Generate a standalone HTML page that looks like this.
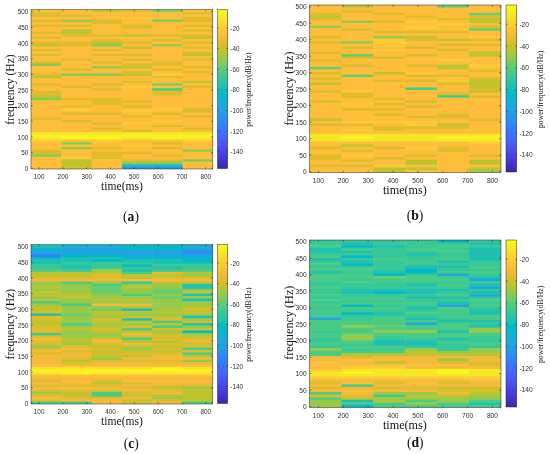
<!DOCTYPE html>
<html><head><meta charset="utf-8"><title>Spectrograms</title>
<style>
html,body{margin:0;padding:0;background:#fff;width:550px;height:454px;overflow:hidden}
svg{display:block;filter:blur(0.45px)}
.tk{font-family:"Liberation Sans",Arial,sans-serif;fill:#2e2e2e}
.lab{font-family:"Liberation Serif","Times New Roman",serif;fill:#151515}
.cap{font-family:"Liberation Serif","Times New Roman",serif;fill:#111;font-size:13.6px}
</style></head><body>
<svg width="550" height="454" viewBox="0 0 550 454">
<defs><linearGradient id="par" x1="0" y1="0" x2="0" y2="1"><stop offset="0" stop-color="#f9fb15"/><stop offset="0.0000" stop-color="#f9fb15"/><stop offset="0.0476" stop-color="#f5e924"/><stop offset="0.0952" stop-color="#fad62d"/><stop offset="0.1429" stop-color="#fec338"/><stop offset="0.1905" stop-color="#f0ba36"/><stop offset="0.2381" stop-color="#d1bf27"/><stop offset="0.2857" stop-color="#abc739"/><stop offset="0.3333" stop-color="#81cc59"/><stop offset="0.3810" stop-color="#57cc7a"/><stop offset="0.4286" stop-color="#37c897"/><stop offset="0.4762" stop-color="#24c1ae"/><stop offset="0.5238" stop-color="#02bac3"/><stop offset="0.5714" stop-color="#12b1d6"/><stop offset="0.6190" stop-color="#20a5e3"/><stop offset="0.6667" stop-color="#2797eb"/><stop offset="0.7143" stop-color="#2e87f7"/><stop offset="0.7619" stop-color="#3875fe"/><stop offset="0.8095" stop-color="#4563fd"/><stop offset="0.8571" stop-color="#4852f4"/><stop offset="0.9048" stop-color="#4741e5"/><stop offset="0.9524" stop-color="#4332cb"/><stop offset="1.0000" stop-color="#3e26a8"/></linearGradient></defs>
<rect width="550" height="454" fill="#fff"/>
<rect x="31.00" y="9.70" width="30.80" height="2.95" fill="#febe3c"/>
<rect x="31.00" y="12.15" width="30.80" height="5.40" fill="#debc2a"/>
<rect x="31.00" y="17.05" width="30.80" height="2.95" fill="#febe3c"/>
<rect x="31.00" y="19.50" width="30.80" height="2.95" fill="#debc2a"/>
<rect x="31.00" y="21.95" width="30.80" height="2.95" fill="#febe3c"/>
<rect x="31.00" y="24.40" width="30.80" height="2.95" fill="#debc2a"/>
<rect x="31.00" y="26.86" width="30.80" height="5.40" fill="#febe3c"/>
<rect x="31.00" y="31.76" width="30.80" height="2.95" fill="#debc2a"/>
<rect x="31.00" y="34.21" width="30.80" height="2.95" fill="#febe3c"/>
<rect x="31.00" y="36.66" width="30.80" height="2.95" fill="#debc2a"/>
<rect x="31.00" y="39.11" width="30.80" height="2.95" fill="#febe3c"/>
<rect x="31.00" y="41.56" width="30.80" height="2.95" fill="#debc2a"/>
<rect x="31.00" y="44.01" width="30.80" height="2.95" fill="#bfc32d"/>
<rect x="31.00" y="46.46" width="30.80" height="2.95" fill="#febe3c"/>
<rect x="31.00" y="48.91" width="30.80" height="2.95" fill="#debc2a"/>
<rect x="31.00" y="51.36" width="30.80" height="2.95" fill="#febe3c"/>
<rect x="31.00" y="53.81" width="30.80" height="2.95" fill="#debc2a"/>
<rect x="31.00" y="56.26" width="30.80" height="5.40" fill="#febe3c"/>
<rect x="31.00" y="61.17" width="30.80" height="2.95" fill="#debc2a"/>
<rect x="31.00" y="63.62" width="30.80" height="2.95" fill="#85cb55"/>
<rect x="31.00" y="66.07" width="30.80" height="7.85" fill="#febe3c"/>
<rect x="31.00" y="73.42" width="30.80" height="2.95" fill="#debc2a"/>
<rect x="31.00" y="75.87" width="30.80" height="2.95" fill="#bfc32d"/>
<rect x="31.00" y="78.32" width="30.80" height="5.40" fill="#febe3c"/>
<rect x="31.00" y="83.22" width="30.80" height="2.95" fill="#debc2a"/>
<rect x="31.00" y="85.67" width="30.80" height="5.40" fill="#febe3c"/>
<rect x="31.00" y="90.58" width="30.80" height="5.40" fill="#debc2a"/>
<rect x="31.00" y="95.48" width="30.80" height="2.95" fill="#bfc32d"/>
<rect x="31.00" y="97.93" width="30.80" height="2.95" fill="#85cb55"/>
<rect x="31.00" y="100.38" width="30.80" height="17.66" fill="#febe3c"/>
<rect x="31.00" y="117.53" width="30.80" height="2.95" fill="#debc2a"/>
<rect x="31.00" y="119.98" width="30.80" height="12.75" fill="#febe3c"/>
<rect x="31.00" y="132.24" width="30.80" height="2.95" fill="#f5e626"/>
<rect x="31.00" y="134.69" width="30.80" height="2.95" fill="#f7f51b"/>
<rect x="31.00" y="137.14" width="30.80" height="2.95" fill="#f5e626"/>
<rect x="31.00" y="139.59" width="30.80" height="2.95" fill="#fdcb33"/>
<rect x="31.00" y="142.04" width="30.80" height="7.85" fill="#febe3c"/>
<rect x="31.00" y="149.39" width="30.80" height="5.40" fill="#debc2a"/>
<rect x="31.00" y="154.30" width="30.80" height="2.95" fill="#85cb55"/>
<rect x="31.00" y="156.75" width="30.80" height="12.25" fill="#febe3c"/>
<rect x="61.30" y="9.70" width="30.80" height="5.40" fill="#febe3c"/>
<rect x="61.30" y="14.60" width="30.80" height="2.95" fill="#debc2a"/>
<rect x="61.30" y="17.05" width="30.80" height="2.95" fill="#febe3c"/>
<rect x="61.30" y="19.50" width="30.80" height="2.95" fill="#96ca48"/>
<rect x="61.30" y="21.95" width="30.80" height="2.95" fill="#febe3c"/>
<rect x="61.30" y="24.40" width="30.80" height="2.95" fill="#debc2a"/>
<rect x="61.30" y="26.86" width="30.80" height="2.95" fill="#febe3c"/>
<rect x="61.30" y="29.31" width="30.80" height="5.40" fill="#bfc32d"/>
<rect x="61.30" y="34.21" width="30.80" height="2.95" fill="#debc2a"/>
<rect x="61.30" y="36.66" width="30.80" height="5.40" fill="#febe3c"/>
<rect x="61.30" y="41.56" width="30.80" height="5.40" fill="#debc2a"/>
<rect x="61.30" y="46.46" width="30.80" height="12.75" fill="#febe3c"/>
<rect x="61.30" y="58.72" width="30.80" height="2.95" fill="#debc2a"/>
<rect x="61.30" y="61.17" width="30.80" height="7.85" fill="#febe3c"/>
<rect x="61.30" y="68.52" width="30.80" height="2.95" fill="#debc2a"/>
<rect x="61.30" y="70.97" width="30.80" height="2.95" fill="#febe3c"/>
<rect x="61.30" y="73.42" width="30.80" height="2.95" fill="#85cb55"/>
<rect x="61.30" y="75.87" width="30.80" height="10.30" fill="#febe3c"/>
<rect x="61.30" y="85.67" width="30.80" height="2.95" fill="#debc2a"/>
<rect x="61.30" y="88.12" width="30.80" height="10.30" fill="#febe3c"/>
<rect x="61.30" y="97.93" width="30.80" height="2.95" fill="#debc2a"/>
<rect x="61.30" y="100.38" width="30.80" height="5.40" fill="#febe3c"/>
<rect x="61.30" y="105.28" width="30.80" height="2.95" fill="#debc2a"/>
<rect x="61.30" y="107.73" width="30.80" height="2.95" fill="#fdcb33"/>
<rect x="61.30" y="110.18" width="30.80" height="2.95" fill="#febe3c"/>
<rect x="61.30" y="112.63" width="30.80" height="2.95" fill="#debc2a"/>
<rect x="61.30" y="115.08" width="30.80" height="5.40" fill="#febe3c"/>
<rect x="61.30" y="119.98" width="30.80" height="2.95" fill="#debc2a"/>
<rect x="61.30" y="122.44" width="30.80" height="10.30" fill="#febe3c"/>
<rect x="61.30" y="132.24" width="30.80" height="2.95" fill="#f5e626"/>
<rect x="61.30" y="134.69" width="30.80" height="5.40" fill="#f7f51b"/>
<rect x="61.30" y="139.59" width="30.80" height="2.95" fill="#febe3c"/>
<rect x="61.30" y="142.04" width="30.80" height="2.95" fill="#96ca48"/>
<rect x="61.30" y="144.49" width="30.80" height="2.95" fill="#febe3c"/>
<rect x="61.30" y="146.94" width="30.80" height="2.95" fill="#96ca48"/>
<rect x="61.30" y="149.39" width="30.80" height="7.85" fill="#febe3c"/>
<rect x="61.30" y="156.75" width="30.80" height="2.95" fill="#fdcb33"/>
<rect x="61.30" y="159.20" width="30.80" height="7.85" fill="#bfc32d"/>
<rect x="61.30" y="166.55" width="30.80" height="2.45" fill="#debc2a"/>
<rect x="91.60" y="9.70" width="30.80" height="2.95" fill="#bfc32d"/>
<rect x="91.60" y="12.15" width="30.80" height="7.85" fill="#febe3c"/>
<rect x="91.60" y="19.50" width="30.80" height="5.40" fill="#debc2a"/>
<rect x="91.60" y="24.40" width="30.80" height="10.30" fill="#febe3c"/>
<rect x="91.60" y="34.21" width="30.80" height="2.95" fill="#debc2a"/>
<rect x="91.60" y="36.66" width="30.80" height="2.95" fill="#febe3c"/>
<rect x="91.60" y="39.11" width="30.80" height="2.95" fill="#debc2a"/>
<rect x="91.60" y="41.56" width="30.80" height="2.95" fill="#bfc32d"/>
<rect x="91.60" y="44.01" width="30.80" height="2.95" fill="#85cb55"/>
<rect x="91.60" y="46.46" width="30.80" height="2.95" fill="#febe3c"/>
<rect x="91.60" y="48.91" width="30.80" height="2.95" fill="#debc2a"/>
<rect x="91.60" y="51.36" width="30.80" height="2.95" fill="#febe3c"/>
<rect x="91.60" y="53.81" width="30.80" height="2.95" fill="#debc2a"/>
<rect x="91.60" y="56.26" width="30.80" height="5.40" fill="#febe3c"/>
<rect x="91.60" y="61.17" width="30.80" height="2.95" fill="#debc2a"/>
<rect x="91.60" y="63.62" width="30.80" height="2.95" fill="#febe3c"/>
<rect x="91.60" y="66.07" width="30.80" height="2.95" fill="#96ca48"/>
<rect x="91.60" y="68.52" width="30.80" height="5.40" fill="#febe3c"/>
<rect x="91.60" y="73.42" width="30.80" height="2.95" fill="#85cb55"/>
<rect x="91.60" y="75.87" width="30.80" height="7.85" fill="#febe3c"/>
<rect x="91.60" y="83.22" width="30.80" height="2.95" fill="#debc2a"/>
<rect x="91.60" y="85.67" width="30.80" height="2.95" fill="#febe3c"/>
<rect x="91.60" y="88.12" width="30.80" height="2.95" fill="#debc2a"/>
<rect x="91.60" y="90.58" width="30.80" height="7.85" fill="#febe3c"/>
<rect x="91.60" y="97.93" width="30.80" height="7.85" fill="#debc2a"/>
<rect x="91.60" y="105.28" width="30.80" height="7.85" fill="#febe3c"/>
<rect x="91.60" y="112.63" width="30.80" height="2.95" fill="#debc2a"/>
<rect x="91.60" y="115.08" width="30.80" height="7.85" fill="#febe3c"/>
<rect x="91.60" y="122.44" width="30.80" height="2.95" fill="#debc2a"/>
<rect x="91.60" y="124.89" width="30.80" height="2.95" fill="#febe3c"/>
<rect x="91.60" y="127.34" width="30.80" height="2.95" fill="#debc2a"/>
<rect x="91.60" y="129.79" width="30.80" height="2.95" fill="#febe3c"/>
<rect x="91.60" y="132.24" width="30.80" height="2.95" fill="#f5e626"/>
<rect x="91.60" y="134.69" width="30.80" height="5.40" fill="#f7f51b"/>
<rect x="91.60" y="139.59" width="30.80" height="2.95" fill="#fdcb33"/>
<rect x="91.60" y="142.04" width="30.80" height="5.40" fill="#febe3c"/>
<rect x="91.60" y="146.94" width="30.80" height="2.95" fill="#debc2a"/>
<rect x="91.60" y="149.39" width="30.80" height="2.95" fill="#febe3c"/>
<rect x="91.60" y="151.84" width="30.80" height="7.85" fill="#debc2a"/>
<rect x="91.60" y="159.20" width="30.80" height="9.80" fill="#febe3c"/>
<rect x="121.90" y="9.70" width="30.80" height="2.95" fill="#debc2a"/>
<rect x="121.90" y="12.15" width="30.80" height="5.40" fill="#febe3c"/>
<rect x="121.90" y="17.05" width="30.80" height="2.95" fill="#fdcb33"/>
<rect x="121.90" y="19.50" width="30.80" height="5.40" fill="#febe3c"/>
<rect x="121.90" y="24.40" width="30.80" height="5.40" fill="#debc2a"/>
<rect x="121.90" y="29.31" width="30.80" height="5.40" fill="#febe3c"/>
<rect x="121.90" y="34.21" width="30.80" height="2.95" fill="#bfc32d"/>
<rect x="121.90" y="36.66" width="30.80" height="5.40" fill="#febe3c"/>
<rect x="121.90" y="41.56" width="30.80" height="2.95" fill="#debc2a"/>
<rect x="121.90" y="44.01" width="30.80" height="2.95" fill="#febe3c"/>
<rect x="121.90" y="46.46" width="30.80" height="2.95" fill="#bfc32d"/>
<rect x="121.90" y="48.91" width="30.80" height="5.40" fill="#febe3c"/>
<rect x="121.90" y="53.81" width="30.80" height="2.95" fill="#debc2a"/>
<rect x="121.90" y="56.26" width="30.80" height="2.95" fill="#febe3c"/>
<rect x="121.90" y="58.72" width="30.80" height="2.95" fill="#debc2a"/>
<rect x="121.90" y="61.17" width="30.80" height="2.95" fill="#febe3c"/>
<rect x="121.90" y="63.62" width="30.80" height="2.95" fill="#debc2a"/>
<rect x="121.90" y="66.07" width="30.80" height="2.95" fill="#bfc32d"/>
<rect x="121.90" y="68.52" width="30.80" height="2.95" fill="#febe3c"/>
<rect x="121.90" y="70.97" width="30.80" height="2.95" fill="#debc2a"/>
<rect x="121.90" y="73.42" width="30.80" height="2.95" fill="#bfc32d"/>
<rect x="121.90" y="75.87" width="30.80" height="5.40" fill="#febe3c"/>
<rect x="121.90" y="80.77" width="30.80" height="2.95" fill="#debc2a"/>
<rect x="121.90" y="83.22" width="30.80" height="2.95" fill="#febe3c"/>
<rect x="121.90" y="85.67" width="30.80" height="2.95" fill="#fdcb33"/>
<rect x="121.90" y="88.12" width="30.80" height="12.75" fill="#febe3c"/>
<rect x="121.90" y="100.38" width="30.80" height="2.95" fill="#debc2a"/>
<rect x="121.90" y="102.83" width="30.80" height="2.95" fill="#febe3c"/>
<rect x="121.90" y="105.28" width="30.80" height="2.95" fill="#debc2a"/>
<rect x="121.90" y="107.73" width="30.80" height="2.95" fill="#febe3c"/>
<rect x="121.90" y="110.18" width="30.80" height="2.95" fill="#fdcb33"/>
<rect x="121.90" y="112.63" width="30.80" height="2.95" fill="#febe3c"/>
<rect x="121.90" y="115.08" width="30.80" height="2.95" fill="#debc2a"/>
<rect x="121.90" y="117.53" width="30.80" height="5.40" fill="#febe3c"/>
<rect x="121.90" y="122.44" width="30.80" height="2.95" fill="#fdcb33"/>
<rect x="121.90" y="124.89" width="30.80" height="5.40" fill="#febe3c"/>
<rect x="121.90" y="129.79" width="30.80" height="2.95" fill="#debc2a"/>
<rect x="121.90" y="132.24" width="30.80" height="2.95" fill="#f5e626"/>
<rect x="121.90" y="134.69" width="30.80" height="2.95" fill="#f7f51b"/>
<rect x="121.90" y="137.14" width="30.80" height="2.95" fill="#f5e626"/>
<rect x="121.90" y="139.59" width="30.80" height="5.40" fill="#febe3c"/>
<rect x="121.90" y="144.49" width="30.80" height="2.95" fill="#fdcb33"/>
<rect x="121.90" y="146.94" width="30.80" height="5.40" fill="#febe3c"/>
<rect x="121.90" y="151.84" width="30.80" height="2.95" fill="#debc2a"/>
<rect x="121.90" y="154.30" width="30.80" height="5.40" fill="#febe3c"/>
<rect x="121.90" y="159.20" width="30.80" height="2.95" fill="#debc2a"/>
<rect x="121.90" y="161.65" width="30.80" height="2.95" fill="#85cb55"/>
<rect x="121.90" y="164.10" width="30.80" height="2.95" fill="#1ec0b2"/>
<rect x="121.90" y="166.55" width="30.80" height="2.45" fill="#2b91ef"/>
<rect x="152.20" y="9.70" width="30.80" height="2.95" fill="#85cb55"/>
<rect x="152.20" y="12.15" width="30.80" height="7.85" fill="#febe3c"/>
<rect x="152.20" y="19.50" width="30.80" height="2.95" fill="#85cb55"/>
<rect x="152.20" y="21.95" width="30.80" height="12.75" fill="#febe3c"/>
<rect x="152.20" y="34.21" width="30.80" height="2.95" fill="#debc2a"/>
<rect x="152.20" y="36.66" width="30.80" height="2.95" fill="#febe3c"/>
<rect x="152.20" y="39.11" width="30.80" height="2.95" fill="#debc2a"/>
<rect x="152.20" y="41.56" width="30.80" height="2.95" fill="#febe3c"/>
<rect x="152.20" y="44.01" width="30.80" height="2.95" fill="#96ca48"/>
<rect x="152.20" y="46.46" width="30.80" height="15.20" fill="#febe3c"/>
<rect x="152.20" y="61.17" width="30.80" height="5.40" fill="#debc2a"/>
<rect x="152.20" y="66.07" width="30.80" height="2.95" fill="#febe3c"/>
<rect x="152.20" y="68.52" width="30.80" height="2.95" fill="#debc2a"/>
<rect x="152.20" y="70.97" width="30.80" height="2.95" fill="#febe3c"/>
<rect x="152.20" y="73.42" width="30.80" height="2.95" fill="#fdcb33"/>
<rect x="152.20" y="75.87" width="30.80" height="2.95" fill="#debc2a"/>
<rect x="152.20" y="78.32" width="30.80" height="5.40" fill="#febe3c"/>
<rect x="152.20" y="83.22" width="30.80" height="2.95" fill="#85cb55"/>
<rect x="152.20" y="85.67" width="30.80" height="2.95" fill="#febe3c"/>
<rect x="152.20" y="88.12" width="30.80" height="2.95" fill="#4acb84"/>
<rect x="152.20" y="90.58" width="30.80" height="5.40" fill="#debc2a"/>
<rect x="152.20" y="95.48" width="30.80" height="12.75" fill="#febe3c"/>
<rect x="152.20" y="107.73" width="30.80" height="2.95" fill="#fdcb33"/>
<rect x="152.20" y="110.18" width="30.80" height="2.95" fill="#febe3c"/>
<rect x="152.20" y="112.63" width="30.80" height="2.95" fill="#debc2a"/>
<rect x="152.20" y="115.08" width="30.80" height="5.40" fill="#febe3c"/>
<rect x="152.20" y="119.98" width="30.80" height="2.95" fill="#fdcb33"/>
<rect x="152.20" y="122.44" width="30.80" height="2.95" fill="#febe3c"/>
<rect x="152.20" y="124.89" width="30.80" height="2.95" fill="#debc2a"/>
<rect x="152.20" y="127.34" width="30.80" height="5.40" fill="#febe3c"/>
<rect x="152.20" y="132.24" width="30.80" height="2.95" fill="#f5e626"/>
<rect x="152.20" y="134.69" width="30.80" height="5.40" fill="#f7f51b"/>
<rect x="152.20" y="139.59" width="30.80" height="2.95" fill="#febe3c"/>
<rect x="152.20" y="142.04" width="30.80" height="2.95" fill="#debc2a"/>
<rect x="152.20" y="144.49" width="30.80" height="2.95" fill="#febe3c"/>
<rect x="152.20" y="146.94" width="30.80" height="2.95" fill="#debc2a"/>
<rect x="152.20" y="149.39" width="30.80" height="5.40" fill="#febe3c"/>
<rect x="152.20" y="154.30" width="30.80" height="2.95" fill="#debc2a"/>
<rect x="152.20" y="156.75" width="30.80" height="2.95" fill="#febe3c"/>
<rect x="152.20" y="159.20" width="30.80" height="2.95" fill="#debc2a"/>
<rect x="152.20" y="161.65" width="30.80" height="2.95" fill="#85cb55"/>
<rect x="152.20" y="164.10" width="30.80" height="2.95" fill="#1ec0b2"/>
<rect x="152.20" y="166.55" width="30.80" height="2.45" fill="#2b91ef"/>
<rect x="182.50" y="9.70" width="30.30" height="2.95" fill="#febe3c"/>
<rect x="182.50" y="12.15" width="30.30" height="2.95" fill="#debc2a"/>
<rect x="182.50" y="14.60" width="30.30" height="2.95" fill="#febe3c"/>
<rect x="182.50" y="17.05" width="30.30" height="5.40" fill="#debc2a"/>
<rect x="182.50" y="21.95" width="30.30" height="2.95" fill="#febe3c"/>
<rect x="182.50" y="24.40" width="30.30" height="2.95" fill="#debc2a"/>
<rect x="182.50" y="26.86" width="30.30" height="2.95" fill="#febe3c"/>
<rect x="182.50" y="29.31" width="30.30" height="2.95" fill="#debc2a"/>
<rect x="182.50" y="31.76" width="30.30" height="2.95" fill="#febe3c"/>
<rect x="182.50" y="34.21" width="30.30" height="2.95" fill="#debc2a"/>
<rect x="182.50" y="36.66" width="30.30" height="2.95" fill="#bfc32d"/>
<rect x="182.50" y="39.11" width="30.30" height="2.95" fill="#febe3c"/>
<rect x="182.50" y="41.56" width="30.30" height="2.95" fill="#debc2a"/>
<rect x="182.50" y="44.01" width="30.30" height="2.95" fill="#febe3c"/>
<rect x="182.50" y="46.46" width="30.30" height="2.95" fill="#debc2a"/>
<rect x="182.50" y="48.91" width="30.30" height="2.95" fill="#febe3c"/>
<rect x="182.50" y="51.36" width="30.30" height="2.95" fill="#debc2a"/>
<rect x="182.50" y="53.81" width="30.30" height="2.95" fill="#bfc32d"/>
<rect x="182.50" y="56.26" width="30.30" height="2.95" fill="#febe3c"/>
<rect x="182.50" y="58.72" width="30.30" height="2.95" fill="#debc2a"/>
<rect x="182.50" y="61.17" width="30.30" height="5.40" fill="#febe3c"/>
<rect x="182.50" y="66.07" width="30.30" height="2.95" fill="#debc2a"/>
<rect x="182.50" y="68.52" width="30.30" height="2.95" fill="#febe3c"/>
<rect x="182.50" y="70.97" width="30.30" height="2.95" fill="#debc2a"/>
<rect x="182.50" y="73.42" width="30.30" height="7.85" fill="#febe3c"/>
<rect x="182.50" y="80.77" width="30.30" height="2.95" fill="#bfc32d"/>
<rect x="182.50" y="83.22" width="30.30" height="2.95" fill="#febe3c"/>
<rect x="182.50" y="85.67" width="30.30" height="2.95" fill="#debc2a"/>
<rect x="182.50" y="88.12" width="30.30" height="20.11" fill="#febe3c"/>
<rect x="182.50" y="107.73" width="30.30" height="5.40" fill="#debc2a"/>
<rect x="182.50" y="112.63" width="30.30" height="2.95" fill="#febe3c"/>
<rect x="182.50" y="115.08" width="30.30" height="2.95" fill="#debc2a"/>
<rect x="182.50" y="117.53" width="30.30" height="10.30" fill="#febe3c"/>
<rect x="182.50" y="127.34" width="30.30" height="2.95" fill="#debc2a"/>
<rect x="182.50" y="129.79" width="30.30" height="2.95" fill="#febe3c"/>
<rect x="182.50" y="132.24" width="30.30" height="2.95" fill="#f5e626"/>
<rect x="182.50" y="134.69" width="30.30" height="2.95" fill="#f7f51b"/>
<rect x="182.50" y="137.14" width="30.30" height="2.95" fill="#f5e626"/>
<rect x="182.50" y="139.59" width="30.30" height="2.95" fill="#fdcb33"/>
<rect x="182.50" y="142.04" width="30.30" height="7.85" fill="#febe3c"/>
<rect x="182.50" y="149.39" width="30.30" height="2.95" fill="#96ca48"/>
<rect x="182.50" y="151.84" width="30.30" height="7.85" fill="#febe3c"/>
<rect x="182.50" y="159.20" width="30.30" height="2.95" fill="#85cb55"/>
<rect x="182.50" y="161.65" width="30.30" height="7.35" fill="#febe3c"/>
<rect x="31" y="9.7" width="181.8" height="159.3" fill="none" stroke="#262626" stroke-width="0.5"/>
<line x1="31" y1="168.30" x2="32.8" y2="168.30" stroke="#262626" stroke-width="0.5"/>
<line x1="212.8" y1="168.30" x2="211.0" y2="168.30" stroke="#262626" stroke-width="0.5"/>
<text transform="translate(28.3,170.86) scale(0.9,1)" text-anchor="end" class="tk" font-size="7.1">0</text>
<line x1="31" y1="152.63" x2="32.8" y2="152.63" stroke="#262626" stroke-width="0.5"/>
<line x1="212.8" y1="152.63" x2="211.0" y2="152.63" stroke="#262626" stroke-width="0.5"/>
<text transform="translate(28.3,155.19) scale(0.9,1)" text-anchor="end" class="tk" font-size="7.1">50</text>
<line x1="31" y1="136.96" x2="32.8" y2="136.96" stroke="#262626" stroke-width="0.5"/>
<line x1="212.8" y1="136.96" x2="211.0" y2="136.96" stroke="#262626" stroke-width="0.5"/>
<text transform="translate(28.3,139.52) scale(0.9,1)" text-anchor="end" class="tk" font-size="7.1">100</text>
<line x1="31" y1="121.29" x2="32.8" y2="121.29" stroke="#262626" stroke-width="0.5"/>
<line x1="212.8" y1="121.29" x2="211.0" y2="121.29" stroke="#262626" stroke-width="0.5"/>
<text transform="translate(28.3,123.85) scale(0.9,1)" text-anchor="end" class="tk" font-size="7.1">150</text>
<line x1="31" y1="105.62" x2="32.8" y2="105.62" stroke="#262626" stroke-width="0.5"/>
<line x1="212.8" y1="105.62" x2="211.0" y2="105.62" stroke="#262626" stroke-width="0.5"/>
<text transform="translate(28.3,108.18) scale(0.9,1)" text-anchor="end" class="tk" font-size="7.1">200</text>
<line x1="31" y1="89.95" x2="32.8" y2="89.95" stroke="#262626" stroke-width="0.5"/>
<line x1="212.8" y1="89.95" x2="211.0" y2="89.95" stroke="#262626" stroke-width="0.5"/>
<text transform="translate(28.3,92.51) scale(0.9,1)" text-anchor="end" class="tk" font-size="7.1">250</text>
<line x1="31" y1="74.28" x2="32.8" y2="74.28" stroke="#262626" stroke-width="0.5"/>
<line x1="212.8" y1="74.28" x2="211.0" y2="74.28" stroke="#262626" stroke-width="0.5"/>
<text transform="translate(28.3,76.84) scale(0.9,1)" text-anchor="end" class="tk" font-size="7.1">300</text>
<line x1="31" y1="58.61" x2="32.8" y2="58.61" stroke="#262626" stroke-width="0.5"/>
<line x1="212.8" y1="58.61" x2="211.0" y2="58.61" stroke="#262626" stroke-width="0.5"/>
<text transform="translate(28.3,61.17) scale(0.9,1)" text-anchor="end" class="tk" font-size="7.1">350</text>
<line x1="31" y1="42.94" x2="32.8" y2="42.94" stroke="#262626" stroke-width="0.5"/>
<line x1="212.8" y1="42.94" x2="211.0" y2="42.94" stroke="#262626" stroke-width="0.5"/>
<text transform="translate(28.3,45.50) scale(0.9,1)" text-anchor="end" class="tk" font-size="7.1">400</text>
<line x1="31" y1="27.27" x2="32.8" y2="27.27" stroke="#262626" stroke-width="0.5"/>
<line x1="212.8" y1="27.27" x2="211.0" y2="27.27" stroke="#262626" stroke-width="0.5"/>
<text transform="translate(28.3,29.83) scale(0.9,1)" text-anchor="end" class="tk" font-size="7.1">450</text>
<line x1="31" y1="11.60" x2="32.8" y2="11.60" stroke="#262626" stroke-width="0.5"/>
<line x1="212.8" y1="11.60" x2="211.0" y2="11.60" stroke="#262626" stroke-width="0.5"/>
<text transform="translate(28.3,14.16) scale(0.9,1)" text-anchor="end" class="tk" font-size="7.1">500</text>
<line x1="39.10" y1="169" x2="39.10" y2="167.2" stroke="#262626" stroke-width="0.5"/>
<line x1="39.10" y1="9.7" x2="39.10" y2="11.5" stroke="#262626" stroke-width="0.5"/>
<text transform="translate(39.10,178.66) scale(0.9,1)" text-anchor="middle" class="tk" font-size="7.1">100</text>
<line x1="62.90" y1="169" x2="62.90" y2="167.2" stroke="#262626" stroke-width="0.5"/>
<line x1="62.90" y1="9.7" x2="62.90" y2="11.5" stroke="#262626" stroke-width="0.5"/>
<text transform="translate(62.90,178.66) scale(0.9,1)" text-anchor="middle" class="tk" font-size="7.1">200</text>
<line x1="86.70" y1="169" x2="86.70" y2="167.2" stroke="#262626" stroke-width="0.5"/>
<line x1="86.70" y1="9.7" x2="86.70" y2="11.5" stroke="#262626" stroke-width="0.5"/>
<text transform="translate(86.70,178.66) scale(0.9,1)" text-anchor="middle" class="tk" font-size="7.1">300</text>
<line x1="110.50" y1="169" x2="110.50" y2="167.2" stroke="#262626" stroke-width="0.5"/>
<line x1="110.50" y1="9.7" x2="110.50" y2="11.5" stroke="#262626" stroke-width="0.5"/>
<text transform="translate(110.50,178.66) scale(0.9,1)" text-anchor="middle" class="tk" font-size="7.1">400</text>
<line x1="134.30" y1="169" x2="134.30" y2="167.2" stroke="#262626" stroke-width="0.5"/>
<line x1="134.30" y1="9.7" x2="134.30" y2="11.5" stroke="#262626" stroke-width="0.5"/>
<text transform="translate(134.30,178.66) scale(0.9,1)" text-anchor="middle" class="tk" font-size="7.1">500</text>
<line x1="158.10" y1="169" x2="158.10" y2="167.2" stroke="#262626" stroke-width="0.5"/>
<line x1="158.10" y1="9.7" x2="158.10" y2="11.5" stroke="#262626" stroke-width="0.5"/>
<text transform="translate(158.10,178.66) scale(0.9,1)" text-anchor="middle" class="tk" font-size="7.1">600</text>
<line x1="181.90" y1="169" x2="181.90" y2="167.2" stroke="#262626" stroke-width="0.5"/>
<line x1="181.90" y1="9.7" x2="181.90" y2="11.5" stroke="#262626" stroke-width="0.5"/>
<text transform="translate(181.90,178.66) scale(0.9,1)" text-anchor="middle" class="tk" font-size="7.1">700</text>
<line x1="205.70" y1="169" x2="205.70" y2="167.2" stroke="#262626" stroke-width="0.5"/>
<line x1="205.70" y1="9.7" x2="205.70" y2="11.5" stroke="#262626" stroke-width="0.5"/>
<text transform="translate(205.70,178.66) scale(0.9,1)" text-anchor="middle" class="tk" font-size="7.1">800</text>
<rect x="217.5" y="9.7" width="10.199999999999989" height="158.8" fill="url(#par)" stroke="#262626" stroke-width="0.5"/>
<line x1="227.7" y1="28.00" x2="226.2" y2="28.00" stroke="#262626" stroke-width="0.5"/>
<line x1="217.5" y1="28.00" x2="219.0" y2="28.00" stroke="#262626" stroke-width="0.5"/>
<text transform="translate(230.3,30.56) scale(0.9,1)" class="tk" font-size="7.1">-20</text>
<line x1="227.7" y1="48.60" x2="226.2" y2="48.60" stroke="#262626" stroke-width="0.5"/>
<line x1="217.5" y1="48.60" x2="219.0" y2="48.60" stroke="#262626" stroke-width="0.5"/>
<text transform="translate(230.3,51.16) scale(0.9,1)" class="tk" font-size="7.1">-40</text>
<line x1="227.7" y1="69.20" x2="226.2" y2="69.20" stroke="#262626" stroke-width="0.5"/>
<line x1="217.5" y1="69.20" x2="219.0" y2="69.20" stroke="#262626" stroke-width="0.5"/>
<text transform="translate(230.3,71.76) scale(0.9,1)" class="tk" font-size="7.1">-60</text>
<line x1="227.7" y1="89.80" x2="226.2" y2="89.80" stroke="#262626" stroke-width="0.5"/>
<line x1="217.5" y1="89.80" x2="219.0" y2="89.80" stroke="#262626" stroke-width="0.5"/>
<text transform="translate(230.3,92.36) scale(0.9,1)" class="tk" font-size="7.1">-80</text>
<line x1="227.7" y1="110.40" x2="226.2" y2="110.40" stroke="#262626" stroke-width="0.5"/>
<line x1="217.5" y1="110.40" x2="219.0" y2="110.40" stroke="#262626" stroke-width="0.5"/>
<text transform="translate(230.3,112.96) scale(0.9,1)" class="tk" font-size="7.1">-100</text>
<line x1="227.7" y1="131.00" x2="226.2" y2="131.00" stroke="#262626" stroke-width="0.5"/>
<line x1="217.5" y1="131.00" x2="219.0" y2="131.00" stroke="#262626" stroke-width="0.5"/>
<text transform="translate(230.3,133.56) scale(0.9,1)" class="tk" font-size="7.1">-120</text>
<line x1="227.7" y1="151.60" x2="226.2" y2="151.60" stroke="#262626" stroke-width="0.5"/>
<line x1="217.5" y1="151.60" x2="219.0" y2="151.60" stroke="#262626" stroke-width="0.5"/>
<text transform="translate(230.3,154.16) scale(0.9,1)" class="tk" font-size="7.1">-140</text>
<text transform="translate(10.5,89.5) rotate(-90)" text-anchor="middle" class="lab" font-size="11.6" dy="0.33em">frequency (Hz)</text>
<text x="122" y="189.9" text-anchor="middle" class="lab" font-size="11.6">time(ms)</text>
<text transform="translate(249,89.7) rotate(-90)" text-anchor="middle" class="lab" font-size="7.4" dy="0.33em">power/frequency(dB/Hz)</text>
<text x="131" y="220.6" text-anchor="middle" class="cap">(<tspan font-weight="bold">a</tspan>)</text>
<rect x="309.50" y="5.00" width="32.42" height="8.23" fill="#febe3c"/>
<rect x="309.50" y="12.73" width="32.42" height="3.08" fill="#debc2a"/>
<rect x="309.50" y="15.31" width="32.42" height="3.08" fill="#bfc32d"/>
<rect x="309.50" y="17.88" width="32.42" height="3.08" fill="#debc2a"/>
<rect x="309.50" y="20.46" width="32.42" height="5.65" fill="#febe3c"/>
<rect x="309.50" y="25.62" width="32.42" height="3.08" fill="#96ca48"/>
<rect x="309.50" y="28.19" width="32.42" height="8.23" fill="#febe3c"/>
<rect x="309.50" y="35.92" width="32.42" height="3.08" fill="#debc2a"/>
<rect x="309.50" y="38.50" width="32.42" height="3.08" fill="#febe3c"/>
<rect x="309.50" y="41.08" width="32.42" height="3.08" fill="#debc2a"/>
<rect x="309.50" y="43.65" width="32.42" height="8.23" fill="#febe3c"/>
<rect x="309.50" y="51.38" width="32.42" height="3.08" fill="#debc2a"/>
<rect x="309.50" y="53.96" width="32.42" height="5.65" fill="#febe3c"/>
<rect x="309.50" y="59.12" width="32.42" height="3.08" fill="#debc2a"/>
<rect x="309.50" y="61.69" width="32.42" height="5.65" fill="#febe3c"/>
<rect x="309.50" y="66.85" width="32.42" height="3.08" fill="#68cd6c"/>
<rect x="309.50" y="69.42" width="32.42" height="3.08" fill="#febe3c"/>
<rect x="309.50" y="72.00" width="32.42" height="3.08" fill="#debc2a"/>
<rect x="309.50" y="74.58" width="32.42" height="3.08" fill="#febe3c"/>
<rect x="309.50" y="77.15" width="32.42" height="3.08" fill="#debc2a"/>
<rect x="309.50" y="79.73" width="32.42" height="3.08" fill="#febe3c"/>
<rect x="309.50" y="82.31" width="32.42" height="3.08" fill="#bfc32d"/>
<rect x="309.50" y="84.88" width="32.42" height="5.65" fill="#febe3c"/>
<rect x="309.50" y="90.04" width="32.42" height="3.08" fill="#debc2a"/>
<rect x="309.50" y="92.62" width="32.42" height="8.23" fill="#febe3c"/>
<rect x="309.50" y="100.35" width="32.42" height="3.08" fill="#debc2a"/>
<rect x="309.50" y="102.92" width="32.42" height="15.96" fill="#febe3c"/>
<rect x="309.50" y="118.38" width="32.42" height="3.08" fill="#bfc32d"/>
<rect x="309.50" y="120.96" width="32.42" height="3.08" fill="#febe3c"/>
<rect x="309.50" y="123.54" width="32.42" height="3.08" fill="#debc2a"/>
<rect x="309.50" y="126.12" width="32.42" height="8.23" fill="#febe3c"/>
<rect x="309.50" y="133.85" width="32.42" height="8.23" fill="#f5e626"/>
<rect x="309.50" y="141.58" width="32.42" height="5.65" fill="#febe3c"/>
<rect x="309.50" y="146.73" width="32.42" height="3.08" fill="#debc2a"/>
<rect x="309.50" y="149.31" width="32.42" height="5.65" fill="#febe3c"/>
<rect x="309.50" y="154.46" width="32.42" height="5.65" fill="#debc2a"/>
<rect x="309.50" y="159.62" width="32.42" height="5.65" fill="#febe3c"/>
<rect x="309.50" y="164.77" width="32.42" height="3.08" fill="#debc2a"/>
<rect x="309.50" y="167.35" width="32.42" height="5.15" fill="#febe3c"/>
<rect x="341.42" y="5.00" width="32.42" height="3.08" fill="#bfc32d"/>
<rect x="341.42" y="7.58" width="32.42" height="3.08" fill="#febe3c"/>
<rect x="341.42" y="10.15" width="32.42" height="3.08" fill="#debc2a"/>
<rect x="341.42" y="12.73" width="32.42" height="8.23" fill="#febe3c"/>
<rect x="341.42" y="20.46" width="32.42" height="3.08" fill="#96ca48"/>
<rect x="341.42" y="23.04" width="32.42" height="5.65" fill="#febe3c"/>
<rect x="341.42" y="28.19" width="32.42" height="3.08" fill="#debc2a"/>
<rect x="341.42" y="30.77" width="32.42" height="10.81" fill="#febe3c"/>
<rect x="341.42" y="41.08" width="32.42" height="3.08" fill="#96ca48"/>
<rect x="341.42" y="43.65" width="32.42" height="3.08" fill="#febe3c"/>
<rect x="341.42" y="46.23" width="32.42" height="3.08" fill="#debc2a"/>
<rect x="341.42" y="48.81" width="32.42" height="5.65" fill="#febe3c"/>
<rect x="341.42" y="53.96" width="32.42" height="3.08" fill="#68cd6c"/>
<rect x="341.42" y="56.54" width="32.42" height="3.08" fill="#debc2a"/>
<rect x="341.42" y="59.12" width="32.42" height="5.65" fill="#febe3c"/>
<rect x="341.42" y="64.27" width="32.42" height="3.08" fill="#debc2a"/>
<rect x="341.42" y="66.85" width="32.42" height="8.23" fill="#febe3c"/>
<rect x="341.42" y="74.58" width="32.42" height="3.08" fill="#68cd6c"/>
<rect x="341.42" y="77.15" width="32.42" height="13.38" fill="#febe3c"/>
<rect x="341.42" y="90.04" width="32.42" height="3.08" fill="#fdcb33"/>
<rect x="341.42" y="92.62" width="32.42" height="5.65" fill="#debc2a"/>
<rect x="341.42" y="97.77" width="32.42" height="5.65" fill="#febe3c"/>
<rect x="341.42" y="102.92" width="32.42" height="3.08" fill="#fdcb33"/>
<rect x="341.42" y="105.50" width="32.42" height="3.08" fill="#febe3c"/>
<rect x="341.42" y="108.08" width="32.42" height="3.08" fill="#debc2a"/>
<rect x="341.42" y="110.65" width="32.42" height="10.81" fill="#febe3c"/>
<rect x="341.42" y="120.96" width="32.42" height="3.08" fill="#fdcb33"/>
<rect x="341.42" y="123.54" width="32.42" height="3.08" fill="#debc2a"/>
<rect x="341.42" y="126.12" width="32.42" height="3.08" fill="#febe3c"/>
<rect x="341.42" y="128.69" width="32.42" height="3.08" fill="#fdcb33"/>
<rect x="341.42" y="131.27" width="32.42" height="3.08" fill="#febe3c"/>
<rect x="341.42" y="133.85" width="32.42" height="3.08" fill="#f5e626"/>
<rect x="341.42" y="136.42" width="32.42" height="3.08" fill="#f7f51b"/>
<rect x="341.42" y="139.00" width="32.42" height="3.08" fill="#f5e626"/>
<rect x="341.42" y="141.58" width="32.42" height="3.08" fill="#febe3c"/>
<rect x="341.42" y="144.15" width="32.42" height="3.08" fill="#bfc32d"/>
<rect x="341.42" y="146.73" width="32.42" height="3.08" fill="#febe3c"/>
<rect x="341.42" y="149.31" width="32.42" height="3.08" fill="#debc2a"/>
<rect x="341.42" y="151.88" width="32.42" height="3.08" fill="#febe3c"/>
<rect x="341.42" y="154.46" width="32.42" height="3.08" fill="#fdcb33"/>
<rect x="341.42" y="157.04" width="32.42" height="3.08" fill="#febe3c"/>
<rect x="341.42" y="159.62" width="32.42" height="3.08" fill="#debc2a"/>
<rect x="341.42" y="162.19" width="32.42" height="3.08" fill="#febe3c"/>
<rect x="341.42" y="164.77" width="32.42" height="3.08" fill="#debc2a"/>
<rect x="341.42" y="167.35" width="32.42" height="5.15" fill="#febe3c"/>
<rect x="373.33" y="5.00" width="32.42" height="8.23" fill="#febe3c"/>
<rect x="373.33" y="12.73" width="32.42" height="3.08" fill="#debc2a"/>
<rect x="373.33" y="15.31" width="32.42" height="5.65" fill="#febe3c"/>
<rect x="373.33" y="20.46" width="32.42" height="3.08" fill="#debc2a"/>
<rect x="373.33" y="23.04" width="32.42" height="8.23" fill="#febe3c"/>
<rect x="373.33" y="30.77" width="32.42" height="3.08" fill="#debc2a"/>
<rect x="373.33" y="33.35" width="32.42" height="3.08" fill="#febe3c"/>
<rect x="373.33" y="35.92" width="32.42" height="3.08" fill="#96ca48"/>
<rect x="373.33" y="38.50" width="32.42" height="8.23" fill="#fdcb33"/>
<rect x="373.33" y="46.23" width="32.42" height="3.08" fill="#febe3c"/>
<rect x="373.33" y="48.81" width="32.42" height="3.08" fill="#fdcb33"/>
<rect x="373.33" y="51.38" width="32.42" height="5.65" fill="#febe3c"/>
<rect x="373.33" y="56.54" width="32.42" height="3.08" fill="#debc2a"/>
<rect x="373.33" y="59.12" width="32.42" height="13.38" fill="#febe3c"/>
<rect x="373.33" y="72.00" width="32.42" height="3.08" fill="#bfc32d"/>
<rect x="373.33" y="74.58" width="32.42" height="5.65" fill="#febe3c"/>
<rect x="373.33" y="79.73" width="32.42" height="3.08" fill="#debc2a"/>
<rect x="373.33" y="82.31" width="32.42" height="15.96" fill="#febe3c"/>
<rect x="373.33" y="97.77" width="32.42" height="3.08" fill="#debc2a"/>
<rect x="373.33" y="100.35" width="32.42" height="3.08" fill="#febe3c"/>
<rect x="373.33" y="102.92" width="32.42" height="3.08" fill="#debc2a"/>
<rect x="373.33" y="105.50" width="32.42" height="3.08" fill="#febe3c"/>
<rect x="373.33" y="108.08" width="32.42" height="3.08" fill="#debc2a"/>
<rect x="373.33" y="110.65" width="32.42" height="3.08" fill="#febe3c"/>
<rect x="373.33" y="113.23" width="32.42" height="3.08" fill="#debc2a"/>
<rect x="373.33" y="115.81" width="32.42" height="5.65" fill="#febe3c"/>
<rect x="373.33" y="120.96" width="32.42" height="3.08" fill="#fdcb33"/>
<rect x="373.33" y="123.54" width="32.42" height="3.08" fill="#febe3c"/>
<rect x="373.33" y="126.12" width="32.42" height="5.65" fill="#debc2a"/>
<rect x="373.33" y="131.27" width="32.42" height="3.08" fill="#febe3c"/>
<rect x="373.33" y="133.85" width="32.42" height="8.23" fill="#f5e626"/>
<rect x="373.33" y="141.58" width="32.42" height="5.65" fill="#febe3c"/>
<rect x="373.33" y="146.73" width="32.42" height="3.08" fill="#debc2a"/>
<rect x="373.33" y="149.31" width="32.42" height="8.23" fill="#febe3c"/>
<rect x="373.33" y="157.04" width="32.42" height="3.08" fill="#debc2a"/>
<rect x="373.33" y="159.62" width="32.42" height="5.65" fill="#febe3c"/>
<rect x="373.33" y="164.77" width="32.42" height="3.08" fill="#fdcb33"/>
<rect x="373.33" y="167.35" width="32.42" height="5.15" fill="#bfc32d"/>
<rect x="405.25" y="5.00" width="32.42" height="10.81" fill="#febe3c"/>
<rect x="405.25" y="15.31" width="32.42" height="3.08" fill="#debc2a"/>
<rect x="405.25" y="17.88" width="32.42" height="3.08" fill="#febe3c"/>
<rect x="405.25" y="20.46" width="32.42" height="3.08" fill="#fdcb33"/>
<rect x="405.25" y="23.04" width="32.42" height="3.08" fill="#febe3c"/>
<rect x="405.25" y="25.62" width="32.42" height="3.08" fill="#fdcb33"/>
<rect x="405.25" y="28.19" width="32.42" height="3.08" fill="#febe3c"/>
<rect x="405.25" y="30.77" width="32.42" height="3.08" fill="#debc2a"/>
<rect x="405.25" y="33.35" width="32.42" height="3.08" fill="#febe3c"/>
<rect x="405.25" y="35.92" width="32.42" height="3.08" fill="#bfc32d"/>
<rect x="405.25" y="38.50" width="32.42" height="3.08" fill="#debc2a"/>
<rect x="405.25" y="41.08" width="32.42" height="5.65" fill="#febe3c"/>
<rect x="405.25" y="46.23" width="32.42" height="3.08" fill="#debc2a"/>
<rect x="405.25" y="48.81" width="32.42" height="5.65" fill="#febe3c"/>
<rect x="405.25" y="53.96" width="32.42" height="3.08" fill="#debc2a"/>
<rect x="405.25" y="56.54" width="32.42" height="8.23" fill="#febe3c"/>
<rect x="405.25" y="64.27" width="32.42" height="3.08" fill="#debc2a"/>
<rect x="405.25" y="66.85" width="32.42" height="5.65" fill="#febe3c"/>
<rect x="405.25" y="72.00" width="32.42" height="3.08" fill="#fdcb33"/>
<rect x="405.25" y="74.58" width="32.42" height="3.08" fill="#debc2a"/>
<rect x="405.25" y="77.15" width="32.42" height="3.08" fill="#febe3c"/>
<rect x="405.25" y="79.73" width="32.42" height="3.08" fill="#debc2a"/>
<rect x="405.25" y="82.31" width="32.42" height="5.65" fill="#febe3c"/>
<rect x="405.25" y="87.46" width="32.42" height="3.08" fill="#4acb84"/>
<rect x="405.25" y="90.04" width="32.42" height="10.81" fill="#febe3c"/>
<rect x="405.25" y="100.35" width="32.42" height="3.08" fill="#debc2a"/>
<rect x="405.25" y="102.92" width="32.42" height="3.08" fill="#febe3c"/>
<rect x="405.25" y="105.50" width="32.42" height="3.08" fill="#debc2a"/>
<rect x="405.25" y="108.08" width="32.42" height="8.23" fill="#febe3c"/>
<rect x="405.25" y="115.81" width="32.42" height="3.08" fill="#debc2a"/>
<rect x="405.25" y="118.38" width="32.42" height="3.08" fill="#febe3c"/>
<rect x="405.25" y="120.96" width="32.42" height="5.65" fill="#fdcb33"/>
<rect x="405.25" y="126.12" width="32.42" height="3.08" fill="#debc2a"/>
<rect x="405.25" y="128.69" width="32.42" height="5.65" fill="#febe3c"/>
<rect x="405.25" y="133.85" width="32.42" height="8.23" fill="#f5e626"/>
<rect x="405.25" y="141.58" width="32.42" height="5.65" fill="#febe3c"/>
<rect x="405.25" y="146.73" width="32.42" height="3.08" fill="#fdcb33"/>
<rect x="405.25" y="149.31" width="32.42" height="5.65" fill="#febe3c"/>
<rect x="405.25" y="154.46" width="32.42" height="3.08" fill="#debc2a"/>
<rect x="405.25" y="157.04" width="32.42" height="3.08" fill="#febe3c"/>
<rect x="405.25" y="159.62" width="32.42" height="5.65" fill="#bfc32d"/>
<rect x="405.25" y="164.77" width="32.42" height="3.08" fill="#febe3c"/>
<rect x="405.25" y="167.35" width="32.42" height="3.08" fill="#bfc32d"/>
<rect x="405.25" y="169.92" width="32.42" height="2.58" fill="#febe3c"/>
<rect x="437.17" y="5.00" width="32.42" height="3.08" fill="#68cd6c"/>
<rect x="437.17" y="7.58" width="32.42" height="10.81" fill="#febe3c"/>
<rect x="437.17" y="17.88" width="32.42" height="3.08" fill="#debc2a"/>
<rect x="437.17" y="20.46" width="32.42" height="3.08" fill="#febe3c"/>
<rect x="437.17" y="23.04" width="32.42" height="3.08" fill="#fdcb33"/>
<rect x="437.17" y="25.62" width="32.42" height="5.65" fill="#febe3c"/>
<rect x="437.17" y="30.77" width="32.42" height="3.08" fill="#debc2a"/>
<rect x="437.17" y="33.35" width="32.42" height="5.65" fill="#febe3c"/>
<rect x="437.17" y="38.50" width="32.42" height="3.08" fill="#bfc32d"/>
<rect x="437.17" y="41.08" width="32.42" height="3.08" fill="#febe3c"/>
<rect x="437.17" y="43.65" width="32.42" height="3.08" fill="#debc2a"/>
<rect x="437.17" y="46.23" width="32.42" height="3.08" fill="#febe3c"/>
<rect x="437.17" y="48.81" width="32.42" height="3.08" fill="#debc2a"/>
<rect x="437.17" y="51.38" width="32.42" height="8.23" fill="#febe3c"/>
<rect x="437.17" y="59.12" width="32.42" height="3.08" fill="#fdcb33"/>
<rect x="437.17" y="61.69" width="32.42" height="3.08" fill="#febe3c"/>
<rect x="437.17" y="64.27" width="32.42" height="5.65" fill="#bfc32d"/>
<rect x="437.17" y="69.42" width="32.42" height="5.65" fill="#febe3c"/>
<rect x="437.17" y="74.58" width="32.42" height="3.08" fill="#debc2a"/>
<rect x="437.17" y="77.15" width="32.42" height="3.08" fill="#febe3c"/>
<rect x="437.17" y="79.73" width="32.42" height="3.08" fill="#fdcb33"/>
<rect x="437.17" y="82.31" width="32.42" height="3.08" fill="#debc2a"/>
<rect x="437.17" y="84.88" width="32.42" height="8.23" fill="#febe3c"/>
<rect x="437.17" y="92.62" width="32.42" height="3.08" fill="#debc2a"/>
<rect x="437.17" y="95.19" width="32.42" height="3.08" fill="#4acb84"/>
<rect x="437.17" y="97.77" width="32.42" height="15.96" fill="#febe3c"/>
<rect x="437.17" y="113.23" width="32.42" height="5.65" fill="#debc2a"/>
<rect x="437.17" y="118.38" width="32.42" height="5.65" fill="#febe3c"/>
<rect x="437.17" y="123.54" width="32.42" height="3.08" fill="#bfc32d"/>
<rect x="437.17" y="126.12" width="32.42" height="3.08" fill="#debc2a"/>
<rect x="437.17" y="128.69" width="32.42" height="5.65" fill="#febe3c"/>
<rect x="437.17" y="133.85" width="32.42" height="3.08" fill="#f5e626"/>
<rect x="437.17" y="136.42" width="32.42" height="3.08" fill="#f7f51b"/>
<rect x="437.17" y="139.00" width="32.42" height="3.08" fill="#f5e626"/>
<rect x="437.17" y="141.58" width="32.42" height="5.65" fill="#febe3c"/>
<rect x="437.17" y="146.73" width="32.42" height="5.65" fill="#debc2a"/>
<rect x="437.17" y="151.88" width="32.42" height="20.62" fill="#febe3c"/>
<rect x="469.08" y="5.00" width="31.92" height="8.23" fill="#febe3c"/>
<rect x="469.08" y="12.73" width="31.92" height="3.08" fill="#68cd6c"/>
<rect x="469.08" y="15.31" width="31.92" height="3.08" fill="#debc2a"/>
<rect x="469.08" y="17.88" width="31.92" height="5.65" fill="#bfc32d"/>
<rect x="469.08" y="23.04" width="31.92" height="3.08" fill="#febe3c"/>
<rect x="469.08" y="25.62" width="31.92" height="3.08" fill="#debc2a"/>
<rect x="469.08" y="28.19" width="31.92" height="3.08" fill="#68cd6c"/>
<rect x="469.08" y="30.77" width="31.92" height="5.65" fill="#febe3c"/>
<rect x="469.08" y="35.92" width="31.92" height="3.08" fill="#fdcb33"/>
<rect x="469.08" y="38.50" width="31.92" height="3.08" fill="#debc2a"/>
<rect x="469.08" y="41.08" width="31.92" height="3.08" fill="#febe3c"/>
<rect x="469.08" y="43.65" width="31.92" height="3.08" fill="#debc2a"/>
<rect x="469.08" y="46.23" width="31.92" height="5.65" fill="#febe3c"/>
<rect x="469.08" y="51.38" width="31.92" height="5.65" fill="#bfc32d"/>
<rect x="469.08" y="56.54" width="31.92" height="8.23" fill="#febe3c"/>
<rect x="469.08" y="64.27" width="31.92" height="3.08" fill="#fdcb33"/>
<rect x="469.08" y="66.85" width="31.92" height="3.08" fill="#febe3c"/>
<rect x="469.08" y="69.42" width="31.92" height="3.08" fill="#debc2a"/>
<rect x="469.08" y="72.00" width="31.92" height="5.65" fill="#febe3c"/>
<rect x="469.08" y="77.15" width="31.92" height="3.08" fill="#debc2a"/>
<rect x="469.08" y="79.73" width="31.92" height="8.23" fill="#bfc32d"/>
<rect x="469.08" y="87.46" width="31.92" height="3.08" fill="#debc2a"/>
<rect x="469.08" y="90.04" width="31.92" height="3.08" fill="#bfc32d"/>
<rect x="469.08" y="92.62" width="31.92" height="3.08" fill="#febe3c"/>
<rect x="469.08" y="95.19" width="31.92" height="3.08" fill="#debc2a"/>
<rect x="469.08" y="97.77" width="31.92" height="21.12" fill="#febe3c"/>
<rect x="469.08" y="118.38" width="31.92" height="3.08" fill="#debc2a"/>
<rect x="469.08" y="120.96" width="31.92" height="13.38" fill="#febe3c"/>
<rect x="469.08" y="133.85" width="31.92" height="3.08" fill="#f5e626"/>
<rect x="469.08" y="136.42" width="31.92" height="3.08" fill="#f7f51b"/>
<rect x="469.08" y="139.00" width="31.92" height="3.08" fill="#f5e626"/>
<rect x="469.08" y="141.58" width="31.92" height="3.08" fill="#fdcb33"/>
<rect x="469.08" y="144.15" width="31.92" height="10.81" fill="#febe3c"/>
<rect x="469.08" y="154.46" width="31.92" height="3.08" fill="#debc2a"/>
<rect x="469.08" y="157.04" width="31.92" height="3.08" fill="#febe3c"/>
<rect x="469.08" y="159.62" width="31.92" height="5.65" fill="#bfc32d"/>
<rect x="469.08" y="164.77" width="31.92" height="3.08" fill="#febe3c"/>
<rect x="469.08" y="167.35" width="31.92" height="3.08" fill="#bfc32d"/>
<rect x="469.08" y="169.92" width="31.92" height="2.58" fill="#96ca48"/>
<rect x="309.5" y="5" width="191.5" height="167.5" fill="none" stroke="#262626" stroke-width="0.5"/>
<line x1="309.5" y1="171.60" x2="311.3" y2="171.60" stroke="#262626" stroke-width="0.5"/>
<line x1="501" y1="171.60" x2="499.2" y2="171.60" stroke="#262626" stroke-width="0.5"/>
<text transform="translate(306.7,174.26) scale(0.9,1)" text-anchor="end" class="tk" font-size="7.4">0</text>
<line x1="309.5" y1="155.12" x2="311.3" y2="155.12" stroke="#262626" stroke-width="0.5"/>
<line x1="501" y1="155.12" x2="499.2" y2="155.12" stroke="#262626" stroke-width="0.5"/>
<text transform="translate(306.7,157.78) scale(0.9,1)" text-anchor="end" class="tk" font-size="7.4">50</text>
<line x1="309.5" y1="138.64" x2="311.3" y2="138.64" stroke="#262626" stroke-width="0.5"/>
<line x1="501" y1="138.64" x2="499.2" y2="138.64" stroke="#262626" stroke-width="0.5"/>
<text transform="translate(306.7,141.30) scale(0.9,1)" text-anchor="end" class="tk" font-size="7.4">100</text>
<line x1="309.5" y1="122.16" x2="311.3" y2="122.16" stroke="#262626" stroke-width="0.5"/>
<line x1="501" y1="122.16" x2="499.2" y2="122.16" stroke="#262626" stroke-width="0.5"/>
<text transform="translate(306.7,124.82) scale(0.9,1)" text-anchor="end" class="tk" font-size="7.4">150</text>
<line x1="309.5" y1="105.68" x2="311.3" y2="105.68" stroke="#262626" stroke-width="0.5"/>
<line x1="501" y1="105.68" x2="499.2" y2="105.68" stroke="#262626" stroke-width="0.5"/>
<text transform="translate(306.7,108.34) scale(0.9,1)" text-anchor="end" class="tk" font-size="7.4">200</text>
<line x1="309.5" y1="89.20" x2="311.3" y2="89.20" stroke="#262626" stroke-width="0.5"/>
<line x1="501" y1="89.20" x2="499.2" y2="89.20" stroke="#262626" stroke-width="0.5"/>
<text transform="translate(306.7,91.86) scale(0.9,1)" text-anchor="end" class="tk" font-size="7.4">250</text>
<line x1="309.5" y1="72.72" x2="311.3" y2="72.72" stroke="#262626" stroke-width="0.5"/>
<line x1="501" y1="72.72" x2="499.2" y2="72.72" stroke="#262626" stroke-width="0.5"/>
<text transform="translate(306.7,75.38) scale(0.9,1)" text-anchor="end" class="tk" font-size="7.4">300</text>
<line x1="309.5" y1="56.24" x2="311.3" y2="56.24" stroke="#262626" stroke-width="0.5"/>
<line x1="501" y1="56.24" x2="499.2" y2="56.24" stroke="#262626" stroke-width="0.5"/>
<text transform="translate(306.7,58.90) scale(0.9,1)" text-anchor="end" class="tk" font-size="7.4">350</text>
<line x1="309.5" y1="39.76" x2="311.3" y2="39.76" stroke="#262626" stroke-width="0.5"/>
<line x1="501" y1="39.76" x2="499.2" y2="39.76" stroke="#262626" stroke-width="0.5"/>
<text transform="translate(306.7,42.42) scale(0.9,1)" text-anchor="end" class="tk" font-size="7.4">400</text>
<line x1="309.5" y1="23.28" x2="311.3" y2="23.28" stroke="#262626" stroke-width="0.5"/>
<line x1="501" y1="23.28" x2="499.2" y2="23.28" stroke="#262626" stroke-width="0.5"/>
<text transform="translate(306.7,25.94) scale(0.9,1)" text-anchor="end" class="tk" font-size="7.4">450</text>
<line x1="309.5" y1="6.80" x2="311.3" y2="6.80" stroke="#262626" stroke-width="0.5"/>
<line x1="501" y1="6.80" x2="499.2" y2="6.80" stroke="#262626" stroke-width="0.5"/>
<text transform="translate(306.7,9.46) scale(0.9,1)" text-anchor="end" class="tk" font-size="7.4">500</text>
<line x1="318.40" y1="172.5" x2="318.40" y2="170.7" stroke="#262626" stroke-width="0.5"/>
<line x1="318.40" y1="5" x2="318.40" y2="6.8" stroke="#262626" stroke-width="0.5"/>
<text transform="translate(318.40,182.76) scale(0.9,1)" text-anchor="middle" class="tk" font-size="7.4">100</text>
<line x1="343.26" y1="172.5" x2="343.26" y2="170.7" stroke="#262626" stroke-width="0.5"/>
<line x1="343.26" y1="5" x2="343.26" y2="6.8" stroke="#262626" stroke-width="0.5"/>
<text transform="translate(343.26,182.76) scale(0.9,1)" text-anchor="middle" class="tk" font-size="7.4">200</text>
<line x1="368.12" y1="172.5" x2="368.12" y2="170.7" stroke="#262626" stroke-width="0.5"/>
<line x1="368.12" y1="5" x2="368.12" y2="6.8" stroke="#262626" stroke-width="0.5"/>
<text transform="translate(368.12,182.76) scale(0.9,1)" text-anchor="middle" class="tk" font-size="7.4">300</text>
<line x1="392.98" y1="172.5" x2="392.98" y2="170.7" stroke="#262626" stroke-width="0.5"/>
<line x1="392.98" y1="5" x2="392.98" y2="6.8" stroke="#262626" stroke-width="0.5"/>
<text transform="translate(392.98,182.76) scale(0.9,1)" text-anchor="middle" class="tk" font-size="7.4">400</text>
<line x1="417.84" y1="172.5" x2="417.84" y2="170.7" stroke="#262626" stroke-width="0.5"/>
<line x1="417.84" y1="5" x2="417.84" y2="6.8" stroke="#262626" stroke-width="0.5"/>
<text transform="translate(417.84,182.76) scale(0.9,1)" text-anchor="middle" class="tk" font-size="7.4">500</text>
<line x1="442.70" y1="172.5" x2="442.70" y2="170.7" stroke="#262626" stroke-width="0.5"/>
<line x1="442.70" y1="5" x2="442.70" y2="6.8" stroke="#262626" stroke-width="0.5"/>
<text transform="translate(442.70,182.76) scale(0.9,1)" text-anchor="middle" class="tk" font-size="7.4">600</text>
<line x1="467.56" y1="172.5" x2="467.56" y2="170.7" stroke="#262626" stroke-width="0.5"/>
<line x1="467.56" y1="5" x2="467.56" y2="6.8" stroke="#262626" stroke-width="0.5"/>
<text transform="translate(467.56,182.76) scale(0.9,1)" text-anchor="middle" class="tk" font-size="7.4">700</text>
<line x1="492.42" y1="172.5" x2="492.42" y2="170.7" stroke="#262626" stroke-width="0.5"/>
<line x1="492.42" y1="5" x2="492.42" y2="6.8" stroke="#262626" stroke-width="0.5"/>
<text transform="translate(492.42,182.76) scale(0.9,1)" text-anchor="middle" class="tk" font-size="7.4">800</text>
<rect x="506" y="5" width="10.700000000000045" height="167" fill="url(#par)" stroke="#262626" stroke-width="0.5"/>
<line x1="516.7" y1="24.30" x2="515.2" y2="24.30" stroke="#262626" stroke-width="0.5"/>
<line x1="506" y1="24.30" x2="507.5" y2="24.30" stroke="#262626" stroke-width="0.5"/>
<text transform="translate(519.4,26.96) scale(0.9,1)" class="tk" font-size="7.4">-20</text>
<line x1="516.7" y1="46.05" x2="515.2" y2="46.05" stroke="#262626" stroke-width="0.5"/>
<line x1="506" y1="46.05" x2="507.5" y2="46.05" stroke="#262626" stroke-width="0.5"/>
<text transform="translate(519.4,48.71) scale(0.9,1)" class="tk" font-size="7.4">-40</text>
<line x1="516.7" y1="67.80" x2="515.2" y2="67.80" stroke="#262626" stroke-width="0.5"/>
<line x1="506" y1="67.80" x2="507.5" y2="67.80" stroke="#262626" stroke-width="0.5"/>
<text transform="translate(519.4,70.46) scale(0.9,1)" class="tk" font-size="7.4">-60</text>
<line x1="516.7" y1="89.55" x2="515.2" y2="89.55" stroke="#262626" stroke-width="0.5"/>
<line x1="506" y1="89.55" x2="507.5" y2="89.55" stroke="#262626" stroke-width="0.5"/>
<text transform="translate(519.4,92.21) scale(0.9,1)" class="tk" font-size="7.4">-80</text>
<line x1="516.7" y1="111.30" x2="515.2" y2="111.30" stroke="#262626" stroke-width="0.5"/>
<line x1="506" y1="111.30" x2="507.5" y2="111.30" stroke="#262626" stroke-width="0.5"/>
<text transform="translate(519.4,113.96) scale(0.9,1)" class="tk" font-size="7.4">-100</text>
<line x1="516.7" y1="133.05" x2="515.2" y2="133.05" stroke="#262626" stroke-width="0.5"/>
<line x1="506" y1="133.05" x2="507.5" y2="133.05" stroke="#262626" stroke-width="0.5"/>
<text transform="translate(519.4,135.71) scale(0.9,1)" class="tk" font-size="7.4">-120</text>
<line x1="516.7" y1="154.80" x2="515.2" y2="154.80" stroke="#262626" stroke-width="0.5"/>
<line x1="506" y1="154.80" x2="507.5" y2="154.80" stroke="#262626" stroke-width="0.5"/>
<text transform="translate(519.4,157.46) scale(0.9,1)" class="tk" font-size="7.4">-140</text>
<text transform="translate(289,88.5) rotate(-90)" text-anchor="middle" class="lab" font-size="12.2" dy="0.33em">frequency (Hz)</text>
<text x="404.9" y="194" text-anchor="middle" class="lab" font-size="12.2">time(ms)</text>
<text transform="translate(540,89.4) rotate(-90)" text-anchor="middle" class="lab" font-size="7.7" dy="0.33em">power/frequency(dB/Hz)</text>
<text x="415" y="220.2" text-anchor="middle" class="cap">(<tspan font-weight="bold">b</tspan>)</text>
<rect x="31.00" y="244.70" width="30.80" height="2.95" fill="#1ec0b2"/>
<rect x="31.00" y="247.15" width="30.80" height="2.95" fill="#01b9c7"/>
<rect x="31.00" y="249.60" width="30.80" height="5.40" fill="#20a5e3"/>
<rect x="31.00" y="254.50" width="30.80" height="2.95" fill="#307efb"/>
<rect x="31.00" y="256.95" width="30.80" height="2.95" fill="#01b9c7"/>
<rect x="31.00" y="259.40" width="30.80" height="5.40" fill="#1ec0b2"/>
<rect x="31.00" y="264.31" width="30.80" height="5.40" fill="#37c897"/>
<rect x="31.00" y="269.21" width="30.80" height="2.95" fill="#4acb84"/>
<rect x="31.00" y="271.66" width="30.80" height="5.40" fill="#bfc32d"/>
<rect x="31.00" y="276.56" width="30.80" height="2.95" fill="#debc2a"/>
<rect x="31.00" y="279.01" width="30.80" height="2.95" fill="#f4ba39"/>
<rect x="31.00" y="281.46" width="30.80" height="5.40" fill="#96ca48"/>
<rect x="31.00" y="286.36" width="30.80" height="2.95" fill="#bfc32d"/>
<rect x="31.00" y="288.81" width="30.80" height="2.95" fill="#96ca48"/>
<rect x="31.00" y="291.26" width="30.80" height="5.40" fill="#bfc32d"/>
<rect x="31.00" y="296.17" width="30.80" height="2.95" fill="#96ca48"/>
<rect x="31.00" y="298.62" width="30.80" height="2.95" fill="#bfc32d"/>
<rect x="31.00" y="301.07" width="30.80" height="2.95" fill="#4acb84"/>
<rect x="31.00" y="303.52" width="30.80" height="2.95" fill="#96ca48"/>
<rect x="31.00" y="305.97" width="30.80" height="5.40" fill="#bfc32d"/>
<rect x="31.00" y="310.87" width="30.80" height="2.95" fill="#debc2a"/>
<rect x="31.00" y="313.32" width="30.80" height="2.95" fill="#1ec0b2"/>
<rect x="31.00" y="315.77" width="30.80" height="5.40" fill="#debc2a"/>
<rect x="31.00" y="320.67" width="30.80" height="5.40" fill="#bfc32d"/>
<rect x="31.00" y="325.58" width="30.80" height="7.85" fill="#debc2a"/>
<rect x="31.00" y="332.93" width="30.80" height="2.95" fill="#37c897"/>
<rect x="31.00" y="335.38" width="30.80" height="2.95" fill="#debc2a"/>
<rect x="31.00" y="337.83" width="30.80" height="2.95" fill="#f4ba39"/>
<rect x="31.00" y="340.28" width="30.80" height="5.40" fill="#debc2a"/>
<rect x="31.00" y="345.18" width="30.80" height="2.95" fill="#96ca48"/>
<rect x="31.00" y="347.63" width="30.80" height="2.95" fill="#debc2a"/>
<rect x="31.00" y="350.08" width="30.80" height="2.95" fill="#f4ba39"/>
<rect x="31.00" y="352.53" width="30.80" height="2.95" fill="#debc2a"/>
<rect x="31.00" y="354.98" width="30.80" height="10.30" fill="#f4ba39"/>
<rect x="31.00" y="364.79" width="30.80" height="2.95" fill="#febe3c"/>
<rect x="31.00" y="367.24" width="30.80" height="2.95" fill="#f5e626"/>
<rect x="31.00" y="369.69" width="30.80" height="2.95" fill="#f7f51b"/>
<rect x="31.00" y="372.14" width="30.80" height="2.95" fill="#f5e626"/>
<rect x="31.00" y="374.59" width="30.80" height="2.95" fill="#febe3c"/>
<rect x="31.00" y="377.04" width="30.80" height="2.95" fill="#f4ba39"/>
<rect x="31.00" y="379.49" width="30.80" height="2.95" fill="#debc2a"/>
<rect x="31.00" y="381.94" width="30.80" height="2.95" fill="#f4ba39"/>
<rect x="31.00" y="384.39" width="30.80" height="2.95" fill="#debc2a"/>
<rect x="31.00" y="386.84" width="30.80" height="2.95" fill="#f4ba39"/>
<rect x="31.00" y="389.30" width="30.80" height="2.95" fill="#debc2a"/>
<rect x="31.00" y="391.75" width="30.80" height="2.95" fill="#96ca48"/>
<rect x="31.00" y="394.20" width="30.80" height="2.95" fill="#debc2a"/>
<rect x="31.00" y="396.65" width="30.80" height="2.95" fill="#f4ba39"/>
<rect x="31.00" y="399.10" width="30.80" height="2.95" fill="#debc2a"/>
<rect x="31.00" y="401.55" width="30.80" height="2.45" fill="#4acb84"/>
<rect x="61.30" y="244.70" width="30.80" height="2.95" fill="#01b9c7"/>
<rect x="61.30" y="247.15" width="30.80" height="7.85" fill="#20a5e3"/>
<rect x="61.30" y="254.50" width="30.80" height="2.95" fill="#01b9c7"/>
<rect x="61.30" y="256.95" width="30.80" height="5.40" fill="#1ec0b2"/>
<rect x="61.30" y="261.86" width="30.80" height="2.95" fill="#37c897"/>
<rect x="61.30" y="264.31" width="30.80" height="5.40" fill="#1ec0b2"/>
<rect x="61.30" y="269.21" width="30.80" height="2.95" fill="#37c897"/>
<rect x="61.30" y="271.66" width="30.80" height="5.40" fill="#bfc32d"/>
<rect x="61.30" y="276.56" width="30.80" height="2.95" fill="#debc2a"/>
<rect x="61.30" y="279.01" width="30.80" height="2.95" fill="#f4ba39"/>
<rect x="61.30" y="281.46" width="30.80" height="2.95" fill="#4acb84"/>
<rect x="61.30" y="283.91" width="30.80" height="10.30" fill="#96ca48"/>
<rect x="61.30" y="293.72" width="30.80" height="5.40" fill="#bfc32d"/>
<rect x="61.30" y="298.62" width="30.80" height="5.40" fill="#96ca48"/>
<rect x="61.30" y="303.52" width="30.80" height="2.95" fill="#4acb84"/>
<rect x="61.30" y="305.97" width="30.80" height="7.85" fill="#96ca48"/>
<rect x="61.30" y="313.32" width="30.80" height="2.95" fill="#68cd6c"/>
<rect x="61.30" y="315.77" width="30.80" height="7.85" fill="#96ca48"/>
<rect x="61.30" y="323.12" width="30.80" height="2.95" fill="#4acb84"/>
<rect x="61.30" y="325.58" width="30.80" height="2.95" fill="#96ca48"/>
<rect x="61.30" y="328.03" width="30.80" height="2.95" fill="#bfc32d"/>
<rect x="61.30" y="330.48" width="30.80" height="7.85" fill="#96ca48"/>
<rect x="61.30" y="337.83" width="30.80" height="5.40" fill="#bfc32d"/>
<rect x="61.30" y="342.73" width="30.80" height="2.95" fill="#96ca48"/>
<rect x="61.30" y="345.18" width="30.80" height="2.95" fill="#debc2a"/>
<rect x="61.30" y="347.63" width="30.80" height="2.95" fill="#f4ba39"/>
<rect x="61.30" y="350.08" width="30.80" height="2.95" fill="#debc2a"/>
<rect x="61.30" y="352.53" width="30.80" height="5.40" fill="#f4ba39"/>
<rect x="61.30" y="357.44" width="30.80" height="2.95" fill="#debc2a"/>
<rect x="61.30" y="359.89" width="30.80" height="2.95" fill="#bfc32d"/>
<rect x="61.30" y="362.34" width="30.80" height="2.95" fill="#debc2a"/>
<rect x="61.30" y="364.79" width="30.80" height="2.95" fill="#febe3c"/>
<rect x="61.30" y="367.24" width="30.80" height="2.95" fill="#f5e626"/>
<rect x="61.30" y="369.69" width="30.80" height="5.40" fill="#f7f51b"/>
<rect x="61.30" y="374.59" width="30.80" height="2.95" fill="#febe3c"/>
<rect x="61.30" y="377.04" width="30.80" height="2.95" fill="#f4ba39"/>
<rect x="61.30" y="379.49" width="30.80" height="2.95" fill="#febe3c"/>
<rect x="61.30" y="381.94" width="30.80" height="2.95" fill="#f4ba39"/>
<rect x="61.30" y="384.39" width="30.80" height="2.95" fill="#debc2a"/>
<rect x="61.30" y="386.84" width="30.80" height="2.95" fill="#febe3c"/>
<rect x="61.30" y="389.30" width="30.80" height="2.95" fill="#debc2a"/>
<rect x="61.30" y="391.75" width="30.80" height="5.40" fill="#bfc32d"/>
<rect x="61.30" y="396.65" width="30.80" height="2.95" fill="#debc2a"/>
<rect x="61.30" y="399.10" width="30.80" height="2.95" fill="#f4ba39"/>
<rect x="61.30" y="401.55" width="30.80" height="2.45" fill="#4acb84"/>
<rect x="91.60" y="244.70" width="30.80" height="2.95" fill="#01b9c7"/>
<rect x="91.60" y="247.15" width="30.80" height="7.85" fill="#20a5e3"/>
<rect x="91.60" y="254.50" width="30.80" height="2.95" fill="#01b9c7"/>
<rect x="91.60" y="256.95" width="30.80" height="2.95" fill="#1ec0b2"/>
<rect x="91.60" y="259.40" width="30.80" height="2.95" fill="#01b9c7"/>
<rect x="91.60" y="261.86" width="30.80" height="7.85" fill="#37c897"/>
<rect x="91.60" y="269.21" width="30.80" height="2.95" fill="#96ca48"/>
<rect x="91.60" y="271.66" width="30.80" height="2.95" fill="#bfc32d"/>
<rect x="91.60" y="274.11" width="30.80" height="5.40" fill="#debc2a"/>
<rect x="91.60" y="279.01" width="30.80" height="2.95" fill="#f4ba39"/>
<rect x="91.60" y="281.46" width="30.80" height="2.95" fill="#96ca48"/>
<rect x="91.60" y="283.91" width="30.80" height="2.95" fill="#4acb84"/>
<rect x="91.60" y="286.36" width="30.80" height="7.85" fill="#68cd6c"/>
<rect x="91.60" y="293.72" width="30.80" height="5.40" fill="#96ca48"/>
<rect x="91.60" y="298.62" width="30.80" height="2.95" fill="#bfc32d"/>
<rect x="91.60" y="301.07" width="30.80" height="2.95" fill="#96ca48"/>
<rect x="91.60" y="303.52" width="30.80" height="2.95" fill="#f4ba39"/>
<rect x="91.60" y="305.97" width="30.80" height="2.95" fill="#96ca48"/>
<rect x="91.60" y="308.42" width="30.80" height="2.95" fill="#68cd6c"/>
<rect x="91.60" y="310.87" width="30.80" height="5.40" fill="#bfc32d"/>
<rect x="91.60" y="315.77" width="30.80" height="2.95" fill="#96ca48"/>
<rect x="91.60" y="318.22" width="30.80" height="2.95" fill="#debc2a"/>
<rect x="91.60" y="320.67" width="30.80" height="2.95" fill="#bfc32d"/>
<rect x="91.60" y="323.12" width="30.80" height="2.95" fill="#96ca48"/>
<rect x="91.60" y="325.58" width="30.80" height="2.95" fill="#bfc32d"/>
<rect x="91.60" y="328.03" width="30.80" height="2.95" fill="#debc2a"/>
<rect x="91.60" y="330.48" width="30.80" height="2.95" fill="#bfc32d"/>
<rect x="91.60" y="332.93" width="30.80" height="5.40" fill="#96ca48"/>
<rect x="91.60" y="337.83" width="30.80" height="2.95" fill="#debc2a"/>
<rect x="91.60" y="340.28" width="30.80" height="2.95" fill="#f4ba39"/>
<rect x="91.60" y="342.73" width="30.80" height="2.95" fill="#debc2a"/>
<rect x="91.60" y="345.18" width="30.80" height="2.95" fill="#bfc32d"/>
<rect x="91.60" y="347.63" width="30.80" height="2.95" fill="#debc2a"/>
<rect x="91.60" y="350.08" width="30.80" height="2.95" fill="#bfc32d"/>
<rect x="91.60" y="352.53" width="30.80" height="2.95" fill="#debc2a"/>
<rect x="91.60" y="354.98" width="30.80" height="2.95" fill="#bfc32d"/>
<rect x="91.60" y="357.44" width="30.80" height="2.95" fill="#96ca48"/>
<rect x="91.60" y="359.89" width="30.80" height="2.95" fill="#debc2a"/>
<rect x="91.60" y="362.34" width="30.80" height="2.95" fill="#f4ba39"/>
<rect x="91.60" y="364.79" width="30.80" height="2.95" fill="#febe3c"/>
<rect x="91.60" y="367.24" width="30.80" height="2.95" fill="#f5e626"/>
<rect x="91.60" y="369.69" width="30.80" height="2.95" fill="#f7f51b"/>
<rect x="91.60" y="372.14" width="30.80" height="2.95" fill="#f5e626"/>
<rect x="91.60" y="374.59" width="30.80" height="2.95" fill="#febe3c"/>
<rect x="91.60" y="377.04" width="30.80" height="2.95" fill="#f4ba39"/>
<rect x="91.60" y="379.49" width="30.80" height="2.95" fill="#debc2a"/>
<rect x="91.60" y="381.94" width="30.80" height="2.95" fill="#bfc32d"/>
<rect x="91.60" y="384.39" width="30.80" height="2.95" fill="#debc2a"/>
<rect x="91.60" y="386.84" width="30.80" height="2.95" fill="#f4ba39"/>
<rect x="91.60" y="389.30" width="30.80" height="2.95" fill="#debc2a"/>
<rect x="91.60" y="391.75" width="30.80" height="5.40" fill="#4acb84"/>
<rect x="91.60" y="396.65" width="30.80" height="2.95" fill="#debc2a"/>
<rect x="91.60" y="399.10" width="30.80" height="4.90" fill="#f4ba39"/>
<rect x="121.90" y="244.70" width="30.80" height="5.40" fill="#01b9c7"/>
<rect x="121.90" y="249.60" width="30.80" height="7.85" fill="#20a5e3"/>
<rect x="121.90" y="256.95" width="30.80" height="2.95" fill="#01b9c7"/>
<rect x="121.90" y="259.40" width="30.80" height="2.95" fill="#1ec0b2"/>
<rect x="121.90" y="261.86" width="30.80" height="2.95" fill="#37c897"/>
<rect x="121.90" y="264.31" width="30.80" height="2.95" fill="#01b9c7"/>
<rect x="121.90" y="266.76" width="30.80" height="2.95" fill="#37c897"/>
<rect x="121.90" y="269.21" width="30.80" height="2.95" fill="#1ec0b2"/>
<rect x="121.90" y="271.66" width="30.80" height="2.95" fill="#4acb84"/>
<rect x="121.90" y="274.11" width="30.80" height="5.40" fill="#bfc32d"/>
<rect x="121.90" y="279.01" width="30.80" height="2.95" fill="#f4ba39"/>
<rect x="121.90" y="281.46" width="30.80" height="2.95" fill="#37c897"/>
<rect x="121.90" y="283.91" width="30.80" height="2.95" fill="#96ca48"/>
<rect x="121.90" y="286.36" width="30.80" height="2.95" fill="#bfc32d"/>
<rect x="121.90" y="288.81" width="30.80" height="5.40" fill="#96ca48"/>
<rect x="121.90" y="293.72" width="30.80" height="2.95" fill="#4acb84"/>
<rect x="121.90" y="296.17" width="30.80" height="2.95" fill="#96ca48"/>
<rect x="121.90" y="298.62" width="30.80" height="2.95" fill="#bfc32d"/>
<rect x="121.90" y="301.07" width="30.80" height="2.95" fill="#96ca48"/>
<rect x="121.90" y="303.52" width="30.80" height="2.95" fill="#f4ba39"/>
<rect x="121.90" y="305.97" width="30.80" height="2.95" fill="#bfc32d"/>
<rect x="121.90" y="308.42" width="30.80" height="2.95" fill="#1ec0b2"/>
<rect x="121.90" y="310.87" width="30.80" height="2.95" fill="#bfc32d"/>
<rect x="121.90" y="313.32" width="30.80" height="2.95" fill="#96ca48"/>
<rect x="121.90" y="315.77" width="30.80" height="2.95" fill="#debc2a"/>
<rect x="121.90" y="318.22" width="30.80" height="2.95" fill="#1ec0b2"/>
<rect x="121.90" y="320.67" width="30.80" height="2.95" fill="#bfc32d"/>
<rect x="121.90" y="323.12" width="30.80" height="2.95" fill="#96ca48"/>
<rect x="121.90" y="325.58" width="30.80" height="2.95" fill="#debc2a"/>
<rect x="121.90" y="328.03" width="30.80" height="2.95" fill="#4acb84"/>
<rect x="121.90" y="330.48" width="30.80" height="2.95" fill="#bfc32d"/>
<rect x="121.90" y="332.93" width="30.80" height="2.95" fill="#f4ba39"/>
<rect x="121.90" y="335.38" width="30.80" height="2.95" fill="#bfc32d"/>
<rect x="121.90" y="337.83" width="30.80" height="2.95" fill="#4acb84"/>
<rect x="121.90" y="340.28" width="30.80" height="2.95" fill="#bfc32d"/>
<rect x="121.90" y="342.73" width="30.80" height="2.95" fill="#f4ba39"/>
<rect x="121.90" y="345.18" width="30.80" height="2.95" fill="#bfc32d"/>
<rect x="121.90" y="347.63" width="30.80" height="2.95" fill="#96ca48"/>
<rect x="121.90" y="350.08" width="30.80" height="2.95" fill="#bfc32d"/>
<rect x="121.90" y="352.53" width="30.80" height="2.95" fill="#debc2a"/>
<rect x="121.90" y="354.98" width="30.80" height="2.95" fill="#bfc32d"/>
<rect x="121.90" y="357.44" width="30.80" height="2.95" fill="#f4ba39"/>
<rect x="121.90" y="359.89" width="30.80" height="2.95" fill="#debc2a"/>
<rect x="121.90" y="362.34" width="30.80" height="2.95" fill="#f4ba39"/>
<rect x="121.90" y="364.79" width="30.80" height="2.95" fill="#febe3c"/>
<rect x="121.90" y="367.24" width="30.80" height="2.95" fill="#f5e626"/>
<rect x="121.90" y="369.69" width="30.80" height="2.95" fill="#f7f51b"/>
<rect x="121.90" y="372.14" width="30.80" height="2.95" fill="#f5e626"/>
<rect x="121.90" y="374.59" width="30.80" height="2.95" fill="#febe3c"/>
<rect x="121.90" y="377.04" width="30.80" height="2.95" fill="#f4ba39"/>
<rect x="121.90" y="379.49" width="30.80" height="2.95" fill="#febe3c"/>
<rect x="121.90" y="381.94" width="30.80" height="2.95" fill="#debc2a"/>
<rect x="121.90" y="384.39" width="30.80" height="2.95" fill="#f4ba39"/>
<rect x="121.90" y="386.84" width="30.80" height="2.95" fill="#debc2a"/>
<rect x="121.90" y="389.30" width="30.80" height="2.95" fill="#f4ba39"/>
<rect x="121.90" y="391.75" width="30.80" height="2.95" fill="#debc2a"/>
<rect x="121.90" y="394.20" width="30.80" height="2.95" fill="#bfc32d"/>
<rect x="121.90" y="396.65" width="30.80" height="2.95" fill="#f4ba39"/>
<rect x="121.90" y="399.10" width="30.80" height="2.95" fill="#bfc32d"/>
<rect x="121.90" y="401.55" width="30.80" height="2.45" fill="#debc2a"/>
<rect x="152.20" y="244.70" width="30.80" height="5.40" fill="#01b9c7"/>
<rect x="152.20" y="249.60" width="30.80" height="7.85" fill="#20a5e3"/>
<rect x="152.20" y="256.95" width="30.80" height="2.95" fill="#01b9c7"/>
<rect x="152.20" y="259.40" width="30.80" height="5.40" fill="#1ec0b2"/>
<rect x="152.20" y="264.31" width="30.80" height="2.95" fill="#37c897"/>
<rect x="152.20" y="266.76" width="30.80" height="2.95" fill="#1ec0b2"/>
<rect x="152.20" y="269.21" width="30.80" height="2.95" fill="#37c897"/>
<rect x="152.20" y="271.66" width="30.80" height="2.95" fill="#debc2a"/>
<rect x="152.20" y="274.11" width="30.80" height="2.95" fill="#bfc32d"/>
<rect x="152.20" y="276.56" width="30.80" height="2.95" fill="#debc2a"/>
<rect x="152.20" y="279.01" width="30.80" height="2.95" fill="#f4ba39"/>
<rect x="152.20" y="281.46" width="30.80" height="2.95" fill="#bfc32d"/>
<rect x="152.20" y="283.91" width="30.80" height="5.40" fill="#96ca48"/>
<rect x="152.20" y="288.81" width="30.80" height="5.40" fill="#68cd6c"/>
<rect x="152.20" y="293.72" width="30.80" height="2.95" fill="#96ca48"/>
<rect x="152.20" y="296.17" width="30.80" height="2.95" fill="#68cd6c"/>
<rect x="152.20" y="298.62" width="30.80" height="12.75" fill="#96ca48"/>
<rect x="152.20" y="310.87" width="30.80" height="2.95" fill="#bfc32d"/>
<rect x="152.20" y="313.32" width="30.80" height="2.95" fill="#96ca48"/>
<rect x="152.20" y="315.77" width="30.80" height="2.95" fill="#bfc32d"/>
<rect x="152.20" y="318.22" width="30.80" height="2.95" fill="#debc2a"/>
<rect x="152.20" y="320.67" width="30.80" height="2.95" fill="#4acb84"/>
<rect x="152.20" y="323.12" width="30.80" height="2.95" fill="#bfc32d"/>
<rect x="152.20" y="325.58" width="30.80" height="2.95" fill="#4acb84"/>
<rect x="152.20" y="328.03" width="30.80" height="2.95" fill="#debc2a"/>
<rect x="152.20" y="330.48" width="30.80" height="2.95" fill="#96ca48"/>
<rect x="152.20" y="332.93" width="30.80" height="2.95" fill="#bfc32d"/>
<rect x="152.20" y="335.38" width="30.80" height="5.40" fill="#debc2a"/>
<rect x="152.20" y="340.28" width="30.80" height="2.95" fill="#bfc32d"/>
<rect x="152.20" y="342.73" width="30.80" height="2.95" fill="#debc2a"/>
<rect x="152.20" y="345.18" width="30.80" height="2.95" fill="#bfc32d"/>
<rect x="152.20" y="347.63" width="30.80" height="2.95" fill="#debc2a"/>
<rect x="152.20" y="350.08" width="30.80" height="2.95" fill="#bfc32d"/>
<rect x="152.20" y="352.53" width="30.80" height="2.95" fill="#debc2a"/>
<rect x="152.20" y="354.98" width="30.80" height="5.40" fill="#f4ba39"/>
<rect x="152.20" y="359.89" width="30.80" height="2.95" fill="#debc2a"/>
<rect x="152.20" y="362.34" width="30.80" height="2.95" fill="#f4ba39"/>
<rect x="152.20" y="364.79" width="30.80" height="2.95" fill="#febe3c"/>
<rect x="152.20" y="367.24" width="30.80" height="5.40" fill="#f7f51b"/>
<rect x="152.20" y="372.14" width="30.80" height="2.95" fill="#f5e626"/>
<rect x="152.20" y="374.59" width="30.80" height="2.95" fill="#febe3c"/>
<rect x="152.20" y="377.04" width="30.80" height="2.95" fill="#f4ba39"/>
<rect x="152.20" y="379.49" width="30.80" height="2.95" fill="#febe3c"/>
<rect x="152.20" y="381.94" width="30.80" height="2.95" fill="#f4ba39"/>
<rect x="152.20" y="384.39" width="30.80" height="2.95" fill="#debc2a"/>
<rect x="152.20" y="386.84" width="30.80" height="2.95" fill="#bfc32d"/>
<rect x="152.20" y="389.30" width="30.80" height="2.95" fill="#debc2a"/>
<rect x="152.20" y="391.75" width="30.80" height="2.95" fill="#f4ba39"/>
<rect x="152.20" y="394.20" width="30.80" height="2.95" fill="#bfc32d"/>
<rect x="152.20" y="396.65" width="30.80" height="2.95" fill="#96ca48"/>
<rect x="152.20" y="399.10" width="30.80" height="2.95" fill="#debc2a"/>
<rect x="152.20" y="401.55" width="30.80" height="2.45" fill="#f4ba39"/>
<rect x="182.50" y="244.70" width="30.30" height="2.95" fill="#01b9c7"/>
<rect x="182.50" y="247.15" width="30.30" height="2.95" fill="#20a5e3"/>
<rect x="182.50" y="249.60" width="30.30" height="5.40" fill="#2b91ef"/>
<rect x="182.50" y="254.50" width="30.30" height="2.95" fill="#20a5e3"/>
<rect x="182.50" y="256.95" width="30.30" height="5.40" fill="#01b9c7"/>
<rect x="182.50" y="261.86" width="30.30" height="2.95" fill="#1ec0b2"/>
<rect x="182.50" y="264.31" width="30.30" height="5.40" fill="#37c897"/>
<rect x="182.50" y="269.21" width="30.30" height="2.95" fill="#4acb84"/>
<rect x="182.50" y="271.66" width="30.30" height="2.95" fill="#bfc32d"/>
<rect x="182.50" y="274.11" width="30.30" height="2.95" fill="#96ca48"/>
<rect x="182.50" y="276.56" width="30.30" height="2.95" fill="#debc2a"/>
<rect x="182.50" y="279.01" width="30.30" height="2.95" fill="#f4ba39"/>
<rect x="182.50" y="281.46" width="30.30" height="2.95" fill="#bfc32d"/>
<rect x="182.50" y="283.91" width="30.30" height="5.40" fill="#1ec0b2"/>
<rect x="182.50" y="288.81" width="30.30" height="2.95" fill="#96ca48"/>
<rect x="182.50" y="291.26" width="30.30" height="2.95" fill="#bfc32d"/>
<rect x="182.50" y="293.72" width="30.30" height="2.95" fill="#1ec0b2"/>
<rect x="182.50" y="296.17" width="30.30" height="2.95" fill="#96ca48"/>
<rect x="182.50" y="298.62" width="30.30" height="2.95" fill="#1ec0b2"/>
<rect x="182.50" y="301.07" width="30.30" height="5.40" fill="#96ca48"/>
<rect x="182.50" y="305.97" width="30.30" height="2.95" fill="#bfc32d"/>
<rect x="182.50" y="308.42" width="30.30" height="2.95" fill="#debc2a"/>
<rect x="182.50" y="310.87" width="30.30" height="2.95" fill="#bfc32d"/>
<rect x="182.50" y="313.32" width="30.30" height="2.95" fill="#96ca48"/>
<rect x="182.50" y="315.77" width="30.30" height="2.95" fill="#1ec0b2"/>
<rect x="182.50" y="318.22" width="30.30" height="2.95" fill="#96ca48"/>
<rect x="182.50" y="320.67" width="30.30" height="2.95" fill="#debc2a"/>
<rect x="182.50" y="323.12" width="30.30" height="2.95" fill="#1ec0b2"/>
<rect x="182.50" y="325.58" width="30.30" height="2.95" fill="#96ca48"/>
<rect x="182.50" y="328.03" width="30.30" height="2.95" fill="#bfc32d"/>
<rect x="182.50" y="330.48" width="30.30" height="2.95" fill="#01b9c7"/>
<rect x="182.50" y="332.93" width="30.30" height="2.95" fill="#96ca48"/>
<rect x="182.50" y="335.38" width="30.30" height="2.95" fill="#bfc32d"/>
<rect x="182.50" y="337.83" width="30.30" height="2.95" fill="#debc2a"/>
<rect x="182.50" y="340.28" width="30.30" height="2.95" fill="#f4ba39"/>
<rect x="182.50" y="342.73" width="30.30" height="2.95" fill="#bfc32d"/>
<rect x="182.50" y="345.18" width="30.30" height="2.95" fill="#debc2a"/>
<rect x="182.50" y="347.63" width="30.30" height="2.95" fill="#4acb84"/>
<rect x="182.50" y="350.08" width="30.30" height="2.95" fill="#debc2a"/>
<rect x="182.50" y="352.53" width="30.30" height="2.95" fill="#4acb84"/>
<rect x="182.50" y="354.98" width="30.30" height="2.95" fill="#bfc32d"/>
<rect x="182.50" y="357.44" width="30.30" height="2.95" fill="#f4ba39"/>
<rect x="182.50" y="359.89" width="30.30" height="2.95" fill="#96ca48"/>
<rect x="182.50" y="362.34" width="30.30" height="2.95" fill="#f4ba39"/>
<rect x="182.50" y="364.79" width="30.30" height="2.95" fill="#febe3c"/>
<rect x="182.50" y="367.24" width="30.30" height="2.95" fill="#f5e626"/>
<rect x="182.50" y="369.69" width="30.30" height="2.95" fill="#f7f51b"/>
<rect x="182.50" y="372.14" width="30.30" height="2.95" fill="#f5e626"/>
<rect x="182.50" y="374.59" width="30.30" height="2.95" fill="#febe3c"/>
<rect x="182.50" y="377.04" width="30.30" height="2.95" fill="#f4ba39"/>
<rect x="182.50" y="379.49" width="30.30" height="2.95" fill="#febe3c"/>
<rect x="182.50" y="381.94" width="30.30" height="2.95" fill="#f4ba39"/>
<rect x="182.50" y="384.39" width="30.30" height="2.95" fill="#debc2a"/>
<rect x="182.50" y="386.84" width="30.30" height="2.95" fill="#96ca48"/>
<rect x="182.50" y="389.30" width="30.30" height="12.75" fill="#bfc32d"/>
<rect x="182.50" y="401.55" width="30.30" height="2.45" fill="#4acb84"/>
<rect x="31" y="244.7" width="181.8" height="159.3" fill="none" stroke="#262626" stroke-width="0.5"/>
<line x1="31" y1="403.30" x2="32.8" y2="403.30" stroke="#262626" stroke-width="0.5"/>
<line x1="212.8" y1="403.30" x2="211.0" y2="403.30" stroke="#262626" stroke-width="0.5"/>
<text transform="translate(28.3,405.86) scale(0.9,1)" text-anchor="end" class="tk" font-size="7.1">0</text>
<line x1="31" y1="387.63" x2="32.8" y2="387.63" stroke="#262626" stroke-width="0.5"/>
<line x1="212.8" y1="387.63" x2="211.0" y2="387.63" stroke="#262626" stroke-width="0.5"/>
<text transform="translate(28.3,390.19) scale(0.9,1)" text-anchor="end" class="tk" font-size="7.1">50</text>
<line x1="31" y1="371.96" x2="32.8" y2="371.96" stroke="#262626" stroke-width="0.5"/>
<line x1="212.8" y1="371.96" x2="211.0" y2="371.96" stroke="#262626" stroke-width="0.5"/>
<text transform="translate(28.3,374.52) scale(0.9,1)" text-anchor="end" class="tk" font-size="7.1">100</text>
<line x1="31" y1="356.29" x2="32.8" y2="356.29" stroke="#262626" stroke-width="0.5"/>
<line x1="212.8" y1="356.29" x2="211.0" y2="356.29" stroke="#262626" stroke-width="0.5"/>
<text transform="translate(28.3,358.85) scale(0.9,1)" text-anchor="end" class="tk" font-size="7.1">150</text>
<line x1="31" y1="340.62" x2="32.8" y2="340.62" stroke="#262626" stroke-width="0.5"/>
<line x1="212.8" y1="340.62" x2="211.0" y2="340.62" stroke="#262626" stroke-width="0.5"/>
<text transform="translate(28.3,343.18) scale(0.9,1)" text-anchor="end" class="tk" font-size="7.1">200</text>
<line x1="31" y1="324.95" x2="32.8" y2="324.95" stroke="#262626" stroke-width="0.5"/>
<line x1="212.8" y1="324.95" x2="211.0" y2="324.95" stroke="#262626" stroke-width="0.5"/>
<text transform="translate(28.3,327.51) scale(0.9,1)" text-anchor="end" class="tk" font-size="7.1">250</text>
<line x1="31" y1="309.28" x2="32.8" y2="309.28" stroke="#262626" stroke-width="0.5"/>
<line x1="212.8" y1="309.28" x2="211.0" y2="309.28" stroke="#262626" stroke-width="0.5"/>
<text transform="translate(28.3,311.84) scale(0.9,1)" text-anchor="end" class="tk" font-size="7.1">300</text>
<line x1="31" y1="293.61" x2="32.8" y2="293.61" stroke="#262626" stroke-width="0.5"/>
<line x1="212.8" y1="293.61" x2="211.0" y2="293.61" stroke="#262626" stroke-width="0.5"/>
<text transform="translate(28.3,296.17) scale(0.9,1)" text-anchor="end" class="tk" font-size="7.1">350</text>
<line x1="31" y1="277.94" x2="32.8" y2="277.94" stroke="#262626" stroke-width="0.5"/>
<line x1="212.8" y1="277.94" x2="211.0" y2="277.94" stroke="#262626" stroke-width="0.5"/>
<text transform="translate(28.3,280.50) scale(0.9,1)" text-anchor="end" class="tk" font-size="7.1">400</text>
<line x1="31" y1="262.27" x2="32.8" y2="262.27" stroke="#262626" stroke-width="0.5"/>
<line x1="212.8" y1="262.27" x2="211.0" y2="262.27" stroke="#262626" stroke-width="0.5"/>
<text transform="translate(28.3,264.83) scale(0.9,1)" text-anchor="end" class="tk" font-size="7.1">450</text>
<line x1="31" y1="246.60" x2="32.8" y2="246.60" stroke="#262626" stroke-width="0.5"/>
<line x1="212.8" y1="246.60" x2="211.0" y2="246.60" stroke="#262626" stroke-width="0.5"/>
<text transform="translate(28.3,249.16) scale(0.9,1)" text-anchor="end" class="tk" font-size="7.1">500</text>
<line x1="39.10" y1="404" x2="39.10" y2="402.2" stroke="#262626" stroke-width="0.5"/>
<line x1="39.10" y1="244.7" x2="39.10" y2="246.5" stroke="#262626" stroke-width="0.5"/>
<text transform="translate(39.10,413.66) scale(0.9,1)" text-anchor="middle" class="tk" font-size="7.1">100</text>
<line x1="62.90" y1="404" x2="62.90" y2="402.2" stroke="#262626" stroke-width="0.5"/>
<line x1="62.90" y1="244.7" x2="62.90" y2="246.5" stroke="#262626" stroke-width="0.5"/>
<text transform="translate(62.90,413.66) scale(0.9,1)" text-anchor="middle" class="tk" font-size="7.1">200</text>
<line x1="86.70" y1="404" x2="86.70" y2="402.2" stroke="#262626" stroke-width="0.5"/>
<line x1="86.70" y1="244.7" x2="86.70" y2="246.5" stroke="#262626" stroke-width="0.5"/>
<text transform="translate(86.70,413.66) scale(0.9,1)" text-anchor="middle" class="tk" font-size="7.1">300</text>
<line x1="110.50" y1="404" x2="110.50" y2="402.2" stroke="#262626" stroke-width="0.5"/>
<line x1="110.50" y1="244.7" x2="110.50" y2="246.5" stroke="#262626" stroke-width="0.5"/>
<text transform="translate(110.50,413.66) scale(0.9,1)" text-anchor="middle" class="tk" font-size="7.1">400</text>
<line x1="134.30" y1="404" x2="134.30" y2="402.2" stroke="#262626" stroke-width="0.5"/>
<line x1="134.30" y1="244.7" x2="134.30" y2="246.5" stroke="#262626" stroke-width="0.5"/>
<text transform="translate(134.30,413.66) scale(0.9,1)" text-anchor="middle" class="tk" font-size="7.1">500</text>
<line x1="158.10" y1="404" x2="158.10" y2="402.2" stroke="#262626" stroke-width="0.5"/>
<line x1="158.10" y1="244.7" x2="158.10" y2="246.5" stroke="#262626" stroke-width="0.5"/>
<text transform="translate(158.10,413.66) scale(0.9,1)" text-anchor="middle" class="tk" font-size="7.1">600</text>
<line x1="181.90" y1="404" x2="181.90" y2="402.2" stroke="#262626" stroke-width="0.5"/>
<line x1="181.90" y1="244.7" x2="181.90" y2="246.5" stroke="#262626" stroke-width="0.5"/>
<text transform="translate(181.90,413.66) scale(0.9,1)" text-anchor="middle" class="tk" font-size="7.1">700</text>
<line x1="205.70" y1="404" x2="205.70" y2="402.2" stroke="#262626" stroke-width="0.5"/>
<line x1="205.70" y1="244.7" x2="205.70" y2="246.5" stroke="#262626" stroke-width="0.5"/>
<text transform="translate(205.70,413.66) scale(0.9,1)" text-anchor="middle" class="tk" font-size="7.1">800</text>
<rect x="217.5" y="244.7" width="10.199999999999989" height="158.8" fill="url(#par)" stroke="#262626" stroke-width="0.5"/>
<line x1="227.7" y1="263.00" x2="226.2" y2="263.00" stroke="#262626" stroke-width="0.5"/>
<line x1="217.5" y1="263.00" x2="219.0" y2="263.00" stroke="#262626" stroke-width="0.5"/>
<text transform="translate(230.3,265.56) scale(0.9,1)" class="tk" font-size="7.1">-20</text>
<line x1="227.7" y1="283.60" x2="226.2" y2="283.60" stroke="#262626" stroke-width="0.5"/>
<line x1="217.5" y1="283.60" x2="219.0" y2="283.60" stroke="#262626" stroke-width="0.5"/>
<text transform="translate(230.3,286.16) scale(0.9,1)" class="tk" font-size="7.1">-40</text>
<line x1="227.7" y1="304.20" x2="226.2" y2="304.20" stroke="#262626" stroke-width="0.5"/>
<line x1="217.5" y1="304.20" x2="219.0" y2="304.20" stroke="#262626" stroke-width="0.5"/>
<text transform="translate(230.3,306.76) scale(0.9,1)" class="tk" font-size="7.1">-60</text>
<line x1="227.7" y1="324.80" x2="226.2" y2="324.80" stroke="#262626" stroke-width="0.5"/>
<line x1="217.5" y1="324.80" x2="219.0" y2="324.80" stroke="#262626" stroke-width="0.5"/>
<text transform="translate(230.3,327.36) scale(0.9,1)" class="tk" font-size="7.1">-80</text>
<line x1="227.7" y1="345.40" x2="226.2" y2="345.40" stroke="#262626" stroke-width="0.5"/>
<line x1="217.5" y1="345.40" x2="219.0" y2="345.40" stroke="#262626" stroke-width="0.5"/>
<text transform="translate(230.3,347.96) scale(0.9,1)" class="tk" font-size="7.1">-100</text>
<line x1="227.7" y1="366.00" x2="226.2" y2="366.00" stroke="#262626" stroke-width="0.5"/>
<line x1="217.5" y1="366.00" x2="219.0" y2="366.00" stroke="#262626" stroke-width="0.5"/>
<text transform="translate(230.3,368.56) scale(0.9,1)" class="tk" font-size="7.1">-120</text>
<line x1="227.7" y1="386.60" x2="226.2" y2="386.60" stroke="#262626" stroke-width="0.5"/>
<line x1="217.5" y1="386.60" x2="219.0" y2="386.60" stroke="#262626" stroke-width="0.5"/>
<text transform="translate(230.3,389.16) scale(0.9,1)" class="tk" font-size="7.1">-140</text>
<text transform="translate(10.5,324.2) rotate(-90)" text-anchor="middle" class="lab" font-size="11.6" dy="0.33em">frequency (Hz)</text>
<text x="122" y="424.9" text-anchor="middle" class="lab" font-size="11.6">time(ms)</text>
<text transform="translate(249,324.7) rotate(-90)" text-anchor="middle" class="lab" font-size="7.4" dy="0.33em">power/frequency(dB/Hz)</text>
<text x="131.2" y="448.3" text-anchor="middle" class="cap">(<tspan font-weight="bold">c</tspan>)</text>
<rect x="309.50" y="240.00" width="32.42" height="5.65" fill="#37c897"/>
<rect x="309.50" y="245.15" width="32.42" height="3.08" fill="#4acb84"/>
<rect x="309.50" y="247.73" width="32.42" height="5.65" fill="#1ec0b2"/>
<rect x="309.50" y="252.88" width="32.42" height="3.08" fill="#37c897"/>
<rect x="309.50" y="255.46" width="32.42" height="3.08" fill="#4acb84"/>
<rect x="309.50" y="258.04" width="32.42" height="3.08" fill="#1ec0b2"/>
<rect x="309.50" y="260.62" width="32.42" height="3.08" fill="#37c897"/>
<rect x="309.50" y="263.19" width="32.42" height="3.08" fill="#4acb84"/>
<rect x="309.50" y="265.77" width="32.42" height="3.08" fill="#37c897"/>
<rect x="309.50" y="268.35" width="32.42" height="3.08" fill="#4acb84"/>
<rect x="309.50" y="270.92" width="32.42" height="3.08" fill="#1ec0b2"/>
<rect x="309.50" y="273.50" width="32.42" height="8.23" fill="#4acb84"/>
<rect x="309.50" y="281.23" width="32.42" height="5.65" fill="#37c897"/>
<rect x="309.50" y="286.38" width="32.42" height="3.08" fill="#4acb84"/>
<rect x="309.50" y="288.96" width="32.42" height="5.65" fill="#37c897"/>
<rect x="309.50" y="294.12" width="32.42" height="3.08" fill="#4acb84"/>
<rect x="309.50" y="296.69" width="32.42" height="3.08" fill="#37c897"/>
<rect x="309.50" y="299.27" width="32.42" height="3.08" fill="#4acb84"/>
<rect x="309.50" y="301.85" width="32.42" height="3.08" fill="#37c897"/>
<rect x="309.50" y="304.42" width="32.42" height="3.08" fill="#4acb84"/>
<rect x="309.50" y="307.00" width="32.42" height="3.08" fill="#37c897"/>
<rect x="309.50" y="309.58" width="32.42" height="3.08" fill="#4acb84"/>
<rect x="309.50" y="312.15" width="32.42" height="3.08" fill="#37c897"/>
<rect x="309.50" y="314.73" width="32.42" height="3.08" fill="#4acb84"/>
<rect x="309.50" y="317.31" width="32.42" height="3.08" fill="#20a5e3"/>
<rect x="309.50" y="319.88" width="32.42" height="10.81" fill="#4acb84"/>
<rect x="309.50" y="330.19" width="32.42" height="3.08" fill="#37c897"/>
<rect x="309.50" y="332.77" width="32.42" height="5.65" fill="#4acb84"/>
<rect x="309.50" y="337.92" width="32.42" height="5.65" fill="#37c897"/>
<rect x="309.50" y="343.08" width="32.42" height="3.08" fill="#4acb84"/>
<rect x="309.50" y="345.65" width="32.42" height="3.08" fill="#37c897"/>
<rect x="309.50" y="348.23" width="32.42" height="3.08" fill="#96ca48"/>
<rect x="309.50" y="350.81" width="32.42" height="5.65" fill="#4acb84"/>
<rect x="309.50" y="355.96" width="32.42" height="5.65" fill="#f4ba39"/>
<rect x="309.50" y="361.12" width="32.42" height="5.65" fill="#febe3c"/>
<rect x="309.50" y="366.27" width="32.42" height="3.08" fill="#f4ba39"/>
<rect x="309.50" y="368.85" width="32.42" height="3.08" fill="#fdcb33"/>
<rect x="309.50" y="371.42" width="32.42" height="5.65" fill="#f5e626"/>
<rect x="309.50" y="376.58" width="32.42" height="3.08" fill="#fdcb33"/>
<rect x="309.50" y="379.15" width="32.42" height="3.08" fill="#f4ba39"/>
<rect x="309.50" y="381.73" width="32.42" height="3.08" fill="#debc2a"/>
<rect x="309.50" y="384.31" width="32.42" height="3.08" fill="#f4ba39"/>
<rect x="309.50" y="386.88" width="32.42" height="3.08" fill="#debc2a"/>
<rect x="309.50" y="389.46" width="32.42" height="3.08" fill="#f4ba39"/>
<rect x="309.50" y="392.04" width="32.42" height="3.08" fill="#4acb84"/>
<rect x="309.50" y="394.62" width="32.42" height="3.08" fill="#debc2a"/>
<rect x="309.50" y="397.19" width="32.42" height="3.08" fill="#4acb84"/>
<rect x="309.50" y="399.77" width="32.42" height="7.73" fill="#96ca48"/>
<rect x="341.42" y="240.00" width="32.42" height="3.08" fill="#37c897"/>
<rect x="341.42" y="242.58" width="32.42" height="3.08" fill="#1ec0b2"/>
<rect x="341.42" y="245.15" width="32.42" height="3.08" fill="#01b9c7"/>
<rect x="341.42" y="247.73" width="32.42" height="3.08" fill="#4acb84"/>
<rect x="341.42" y="250.31" width="32.42" height="3.08" fill="#1ec0b2"/>
<rect x="341.42" y="252.88" width="32.42" height="3.08" fill="#37c897"/>
<rect x="341.42" y="255.46" width="32.42" height="3.08" fill="#01b9c7"/>
<rect x="341.42" y="258.04" width="32.42" height="3.08" fill="#37c897"/>
<rect x="341.42" y="260.62" width="32.42" height="3.08" fill="#1ec0b2"/>
<rect x="341.42" y="263.19" width="32.42" height="3.08" fill="#01b9c7"/>
<rect x="341.42" y="265.77" width="32.42" height="3.08" fill="#37c897"/>
<rect x="341.42" y="268.35" width="32.42" height="3.08" fill="#4acb84"/>
<rect x="341.42" y="270.92" width="32.42" height="3.08" fill="#37c897"/>
<rect x="341.42" y="273.50" width="32.42" height="5.65" fill="#4acb84"/>
<rect x="341.42" y="278.65" width="32.42" height="3.08" fill="#37c897"/>
<rect x="341.42" y="281.23" width="32.42" height="3.08" fill="#4acb84"/>
<rect x="341.42" y="283.81" width="32.42" height="5.65" fill="#37c897"/>
<rect x="341.42" y="288.96" width="32.42" height="5.65" fill="#1ec0b2"/>
<rect x="341.42" y="294.12" width="32.42" height="3.08" fill="#37c897"/>
<rect x="341.42" y="296.69" width="32.42" height="3.08" fill="#4acb84"/>
<rect x="341.42" y="299.27" width="32.42" height="3.08" fill="#37c897"/>
<rect x="341.42" y="301.85" width="32.42" height="3.08" fill="#4acb84"/>
<rect x="341.42" y="304.42" width="32.42" height="3.08" fill="#01b9c7"/>
<rect x="341.42" y="307.00" width="32.42" height="3.08" fill="#4acb84"/>
<rect x="341.42" y="309.58" width="32.42" height="3.08" fill="#37c897"/>
<rect x="341.42" y="312.15" width="32.42" height="3.08" fill="#01b9c7"/>
<rect x="341.42" y="314.73" width="32.42" height="5.65" fill="#37c897"/>
<rect x="341.42" y="319.88" width="32.42" height="5.65" fill="#4acb84"/>
<rect x="341.42" y="325.04" width="32.42" height="3.08" fill="#96ca48"/>
<rect x="341.42" y="327.62" width="32.42" height="5.65" fill="#4acb84"/>
<rect x="341.42" y="332.77" width="32.42" height="3.08" fill="#68cd6c"/>
<rect x="341.42" y="335.35" width="32.42" height="5.65" fill="#96ca48"/>
<rect x="341.42" y="340.50" width="32.42" height="3.08" fill="#4acb84"/>
<rect x="341.42" y="343.08" width="32.42" height="3.08" fill="#37c897"/>
<rect x="341.42" y="345.65" width="32.42" height="3.08" fill="#4acb84"/>
<rect x="341.42" y="348.23" width="32.42" height="3.08" fill="#37c897"/>
<rect x="341.42" y="350.81" width="32.42" height="3.08" fill="#4acb84"/>
<rect x="341.42" y="353.38" width="32.42" height="3.08" fill="#bfc32d"/>
<rect x="341.42" y="355.96" width="32.42" height="3.08" fill="#debc2a"/>
<rect x="341.42" y="358.54" width="32.42" height="3.08" fill="#febe3c"/>
<rect x="341.42" y="361.12" width="32.42" height="3.08" fill="#f4ba39"/>
<rect x="341.42" y="363.69" width="32.42" height="3.08" fill="#febe3c"/>
<rect x="341.42" y="366.27" width="32.42" height="3.08" fill="#fdcb33"/>
<rect x="341.42" y="368.85" width="32.42" height="3.08" fill="#f5e626"/>
<rect x="341.42" y="371.42" width="32.42" height="3.08" fill="#f7f51b"/>
<rect x="341.42" y="374.00" width="32.42" height="3.08" fill="#f5e626"/>
<rect x="341.42" y="376.58" width="32.42" height="3.08" fill="#fdcb33"/>
<rect x="341.42" y="379.15" width="32.42" height="3.08" fill="#f4ba39"/>
<rect x="341.42" y="381.73" width="32.42" height="3.08" fill="#febe3c"/>
<rect x="341.42" y="384.31" width="32.42" height="3.08" fill="#4acb84"/>
<rect x="341.42" y="386.88" width="32.42" height="3.08" fill="#f4ba39"/>
<rect x="341.42" y="389.46" width="32.42" height="3.08" fill="#febe3c"/>
<rect x="341.42" y="392.04" width="32.42" height="3.08" fill="#f4ba39"/>
<rect x="341.42" y="394.62" width="32.42" height="3.08" fill="#debc2a"/>
<rect x="341.42" y="397.19" width="32.42" height="3.08" fill="#bfc32d"/>
<rect x="341.42" y="399.77" width="32.42" height="3.08" fill="#1ec0b2"/>
<rect x="341.42" y="402.35" width="32.42" height="3.08" fill="#4acb84"/>
<rect x="341.42" y="404.92" width="32.42" height="2.58" fill="#01b9c7"/>
<rect x="373.33" y="240.00" width="32.42" height="5.65" fill="#37c897"/>
<rect x="373.33" y="245.15" width="32.42" height="3.08" fill="#1ec0b2"/>
<rect x="373.33" y="247.73" width="32.42" height="10.81" fill="#37c897"/>
<rect x="373.33" y="258.04" width="32.42" height="3.08" fill="#4acb84"/>
<rect x="373.33" y="260.62" width="32.42" height="10.81" fill="#37c897"/>
<rect x="373.33" y="270.92" width="32.42" height="3.08" fill="#1ec0b2"/>
<rect x="373.33" y="273.50" width="32.42" height="3.08" fill="#01b9c7"/>
<rect x="373.33" y="276.08" width="32.42" height="3.08" fill="#68cd6c"/>
<rect x="373.33" y="278.65" width="32.42" height="3.08" fill="#4acb84"/>
<rect x="373.33" y="281.23" width="32.42" height="8.23" fill="#37c897"/>
<rect x="373.33" y="288.96" width="32.42" height="3.08" fill="#1ec0b2"/>
<rect x="373.33" y="291.54" width="32.42" height="3.08" fill="#01b9c7"/>
<rect x="373.33" y="294.12" width="32.42" height="3.08" fill="#37c897"/>
<rect x="373.33" y="296.69" width="32.42" height="3.08" fill="#4acb84"/>
<rect x="373.33" y="299.27" width="32.42" height="3.08" fill="#37c897"/>
<rect x="373.33" y="301.85" width="32.42" height="3.08" fill="#4acb84"/>
<rect x="373.33" y="304.42" width="32.42" height="3.08" fill="#37c897"/>
<rect x="373.33" y="307.00" width="32.42" height="3.08" fill="#4acb84"/>
<rect x="373.33" y="309.58" width="32.42" height="3.08" fill="#37c897"/>
<rect x="373.33" y="312.15" width="32.42" height="3.08" fill="#1ec0b2"/>
<rect x="373.33" y="314.73" width="32.42" height="3.08" fill="#37c897"/>
<rect x="373.33" y="317.31" width="32.42" height="8.23" fill="#4acb84"/>
<rect x="373.33" y="325.04" width="32.42" height="3.08" fill="#68cd6c"/>
<rect x="373.33" y="327.62" width="32.42" height="3.08" fill="#4acb84"/>
<rect x="373.33" y="330.19" width="32.42" height="3.08" fill="#96ca48"/>
<rect x="373.33" y="332.77" width="32.42" height="3.08" fill="#4acb84"/>
<rect x="373.33" y="335.35" width="32.42" height="5.65" fill="#37c897"/>
<rect x="373.33" y="340.50" width="32.42" height="5.65" fill="#1ec0b2"/>
<rect x="373.33" y="345.65" width="32.42" height="3.08" fill="#4acb84"/>
<rect x="373.33" y="348.23" width="32.42" height="3.08" fill="#37c897"/>
<rect x="373.33" y="350.81" width="32.42" height="3.08" fill="#4acb84"/>
<rect x="373.33" y="353.38" width="32.42" height="3.08" fill="#bfc32d"/>
<rect x="373.33" y="355.96" width="32.42" height="5.65" fill="#f4ba39"/>
<rect x="373.33" y="361.12" width="32.42" height="3.08" fill="#bfc32d"/>
<rect x="373.33" y="363.69" width="32.42" height="3.08" fill="#febe3c"/>
<rect x="373.33" y="366.27" width="32.42" height="3.08" fill="#fdcb33"/>
<rect x="373.33" y="368.85" width="32.42" height="8.23" fill="#f5e626"/>
<rect x="373.33" y="376.58" width="32.42" height="3.08" fill="#fdcb33"/>
<rect x="373.33" y="379.15" width="32.42" height="3.08" fill="#f4ba39"/>
<rect x="373.33" y="381.73" width="32.42" height="3.08" fill="#debc2a"/>
<rect x="373.33" y="384.31" width="32.42" height="3.08" fill="#f4ba39"/>
<rect x="373.33" y="386.88" width="32.42" height="3.08" fill="#debc2a"/>
<rect x="373.33" y="389.46" width="32.42" height="3.08" fill="#f4ba39"/>
<rect x="373.33" y="392.04" width="32.42" height="3.08" fill="#96ca48"/>
<rect x="373.33" y="394.62" width="32.42" height="3.08" fill="#4acb84"/>
<rect x="373.33" y="397.19" width="32.42" height="3.08" fill="#96ca48"/>
<rect x="373.33" y="399.77" width="32.42" height="3.08" fill="#bfc32d"/>
<rect x="373.33" y="402.35" width="32.42" height="5.15" fill="#4acb84"/>
<rect x="405.25" y="240.00" width="32.42" height="8.23" fill="#37c897"/>
<rect x="405.25" y="247.73" width="32.42" height="3.08" fill="#4acb84"/>
<rect x="405.25" y="250.31" width="32.42" height="3.08" fill="#37c897"/>
<rect x="405.25" y="252.88" width="32.42" height="3.08" fill="#1ec0b2"/>
<rect x="405.25" y="255.46" width="32.42" height="5.65" fill="#37c897"/>
<rect x="405.25" y="260.62" width="32.42" height="3.08" fill="#4acb84"/>
<rect x="405.25" y="263.19" width="32.42" height="3.08" fill="#37c897"/>
<rect x="405.25" y="265.77" width="32.42" height="3.08" fill="#1ec0b2"/>
<rect x="405.25" y="268.35" width="32.42" height="5.65" fill="#01b9c7"/>
<rect x="405.25" y="273.50" width="32.42" height="3.08" fill="#37c897"/>
<rect x="405.25" y="276.08" width="32.42" height="5.65" fill="#4acb84"/>
<rect x="405.25" y="281.23" width="32.42" height="3.08" fill="#37c897"/>
<rect x="405.25" y="283.81" width="32.42" height="3.08" fill="#1ec0b2"/>
<rect x="405.25" y="286.38" width="32.42" height="3.08" fill="#37c897"/>
<rect x="405.25" y="288.96" width="32.42" height="5.65" fill="#1ec0b2"/>
<rect x="405.25" y="294.12" width="32.42" height="3.08" fill="#37c897"/>
<rect x="405.25" y="296.69" width="32.42" height="3.08" fill="#1ec0b2"/>
<rect x="405.25" y="299.27" width="32.42" height="3.08" fill="#37c897"/>
<rect x="405.25" y="301.85" width="32.42" height="3.08" fill="#4acb84"/>
<rect x="405.25" y="304.42" width="32.42" height="3.08" fill="#37c897"/>
<rect x="405.25" y="307.00" width="32.42" height="3.08" fill="#1ec0b2"/>
<rect x="405.25" y="309.58" width="32.42" height="3.08" fill="#37c897"/>
<rect x="405.25" y="312.15" width="32.42" height="3.08" fill="#4acb84"/>
<rect x="405.25" y="314.73" width="32.42" height="3.08" fill="#37c897"/>
<rect x="405.25" y="317.31" width="32.42" height="3.08" fill="#1ec0b2"/>
<rect x="405.25" y="319.88" width="32.42" height="3.08" fill="#4acb84"/>
<rect x="405.25" y="322.46" width="32.42" height="3.08" fill="#20a5e3"/>
<rect x="405.25" y="325.04" width="32.42" height="5.65" fill="#4acb84"/>
<rect x="405.25" y="330.19" width="32.42" height="3.08" fill="#96ca48"/>
<rect x="405.25" y="332.77" width="32.42" height="5.65" fill="#4acb84"/>
<rect x="405.25" y="337.92" width="32.42" height="3.08" fill="#37c897"/>
<rect x="405.25" y="340.50" width="32.42" height="5.65" fill="#1ec0b2"/>
<rect x="405.25" y="345.65" width="32.42" height="3.08" fill="#37c897"/>
<rect x="405.25" y="348.23" width="32.42" height="3.08" fill="#96ca48"/>
<rect x="405.25" y="350.81" width="32.42" height="5.65" fill="#bfc32d"/>
<rect x="405.25" y="355.96" width="32.42" height="8.23" fill="#f4ba39"/>
<rect x="405.25" y="363.69" width="32.42" height="3.08" fill="#febe3c"/>
<rect x="405.25" y="366.27" width="32.42" height="3.08" fill="#f4ba39"/>
<rect x="405.25" y="368.85" width="32.42" height="8.23" fill="#f5e626"/>
<rect x="405.25" y="376.58" width="32.42" height="3.08" fill="#fdcb33"/>
<rect x="405.25" y="379.15" width="32.42" height="3.08" fill="#f4ba39"/>
<rect x="405.25" y="381.73" width="32.42" height="3.08" fill="#febe3c"/>
<rect x="405.25" y="384.31" width="32.42" height="3.08" fill="#f4ba39"/>
<rect x="405.25" y="386.88" width="32.42" height="3.08" fill="#debc2a"/>
<rect x="405.25" y="389.46" width="32.42" height="3.08" fill="#f4ba39"/>
<rect x="405.25" y="392.04" width="32.42" height="3.08" fill="#96ca48"/>
<rect x="405.25" y="394.62" width="32.42" height="3.08" fill="#bfc32d"/>
<rect x="405.25" y="397.19" width="32.42" height="3.08" fill="#96ca48"/>
<rect x="405.25" y="399.77" width="32.42" height="3.08" fill="#4acb84"/>
<rect x="405.25" y="402.35" width="32.42" height="3.08" fill="#96ca48"/>
<rect x="405.25" y="404.92" width="32.42" height="2.58" fill="#4acb84"/>
<rect x="437.17" y="240.00" width="32.42" height="3.08" fill="#01b9c7"/>
<rect x="437.17" y="242.58" width="32.42" height="3.08" fill="#37c897"/>
<rect x="437.17" y="245.15" width="32.42" height="3.08" fill="#4acb84"/>
<rect x="437.17" y="247.73" width="32.42" height="3.08" fill="#37c897"/>
<rect x="437.17" y="250.31" width="32.42" height="3.08" fill="#4acb84"/>
<rect x="437.17" y="252.88" width="32.42" height="5.65" fill="#37c897"/>
<rect x="437.17" y="258.04" width="32.42" height="3.08" fill="#4acb84"/>
<rect x="437.17" y="260.62" width="32.42" height="3.08" fill="#1ec0b2"/>
<rect x="437.17" y="263.19" width="32.42" height="3.08" fill="#37c897"/>
<rect x="437.17" y="265.77" width="32.42" height="3.08" fill="#1ec0b2"/>
<rect x="437.17" y="268.35" width="32.42" height="3.08" fill="#37c897"/>
<rect x="437.17" y="270.92" width="32.42" height="3.08" fill="#4acb84"/>
<rect x="437.17" y="273.50" width="32.42" height="3.08" fill="#20a5e3"/>
<rect x="437.17" y="276.08" width="32.42" height="3.08" fill="#37c897"/>
<rect x="437.17" y="278.65" width="32.42" height="3.08" fill="#4acb84"/>
<rect x="437.17" y="281.23" width="32.42" height="3.08" fill="#37c897"/>
<rect x="437.17" y="283.81" width="32.42" height="3.08" fill="#4acb84"/>
<rect x="437.17" y="286.38" width="32.42" height="3.08" fill="#37c897"/>
<rect x="437.17" y="288.96" width="32.42" height="3.08" fill="#1ec0b2"/>
<rect x="437.17" y="291.54" width="32.42" height="3.08" fill="#37c897"/>
<rect x="437.17" y="294.12" width="32.42" height="3.08" fill="#4acb84"/>
<rect x="437.17" y="296.69" width="32.42" height="3.08" fill="#1ec0b2"/>
<rect x="437.17" y="299.27" width="32.42" height="3.08" fill="#37c897"/>
<rect x="437.17" y="301.85" width="32.42" height="3.08" fill="#1ec0b2"/>
<rect x="437.17" y="304.42" width="32.42" height="3.08" fill="#20a5e3"/>
<rect x="437.17" y="307.00" width="32.42" height="5.65" fill="#4acb84"/>
<rect x="437.17" y="312.15" width="32.42" height="3.08" fill="#37c897"/>
<rect x="437.17" y="314.73" width="32.42" height="3.08" fill="#4acb84"/>
<rect x="437.17" y="317.31" width="32.42" height="3.08" fill="#37c897"/>
<rect x="437.17" y="319.88" width="32.42" height="3.08" fill="#1ec0b2"/>
<rect x="437.17" y="322.46" width="32.42" height="8.23" fill="#4acb84"/>
<rect x="437.17" y="330.19" width="32.42" height="3.08" fill="#1ec0b2"/>
<rect x="437.17" y="332.77" width="32.42" height="5.65" fill="#4acb84"/>
<rect x="437.17" y="337.92" width="32.42" height="3.08" fill="#1ec0b2"/>
<rect x="437.17" y="340.50" width="32.42" height="3.08" fill="#4acb84"/>
<rect x="437.17" y="343.08" width="32.42" height="8.23" fill="#37c897"/>
<rect x="437.17" y="350.81" width="32.42" height="3.08" fill="#96ca48"/>
<rect x="437.17" y="353.38" width="32.42" height="3.08" fill="#bfc32d"/>
<rect x="437.17" y="355.96" width="32.42" height="3.08" fill="#f4ba39"/>
<rect x="437.17" y="358.54" width="32.42" height="3.08" fill="#96ca48"/>
<rect x="437.17" y="361.12" width="32.42" height="3.08" fill="#debc2a"/>
<rect x="437.17" y="363.69" width="32.42" height="3.08" fill="#febe3c"/>
<rect x="437.17" y="366.27" width="32.42" height="3.08" fill="#f4ba39"/>
<rect x="437.17" y="368.85" width="32.42" height="5.65" fill="#f7f51b"/>
<rect x="437.17" y="374.00" width="32.42" height="3.08" fill="#f5e626"/>
<rect x="437.17" y="376.58" width="32.42" height="3.08" fill="#fdcb33"/>
<rect x="437.17" y="379.15" width="32.42" height="3.08" fill="#f4ba39"/>
<rect x="437.17" y="381.73" width="32.42" height="3.08" fill="#debc2a"/>
<rect x="437.17" y="384.31" width="32.42" height="3.08" fill="#f4ba39"/>
<rect x="437.17" y="386.88" width="32.42" height="3.08" fill="#bfc32d"/>
<rect x="437.17" y="389.46" width="32.42" height="3.08" fill="#debc2a"/>
<rect x="437.17" y="392.04" width="32.42" height="3.08" fill="#f4ba39"/>
<rect x="437.17" y="394.62" width="32.42" height="3.08" fill="#bfc32d"/>
<rect x="437.17" y="397.19" width="32.42" height="5.65" fill="#96ca48"/>
<rect x="437.17" y="402.35" width="32.42" height="5.15" fill="#4acb84"/>
<rect x="469.08" y="240.00" width="31.92" height="3.08" fill="#37c897"/>
<rect x="469.08" y="242.58" width="31.92" height="3.08" fill="#1ec0b2"/>
<rect x="469.08" y="245.15" width="31.92" height="3.08" fill="#37c897"/>
<rect x="469.08" y="247.73" width="31.92" height="13.38" fill="#1ec0b2"/>
<rect x="469.08" y="260.62" width="31.92" height="5.65" fill="#37c897"/>
<rect x="469.08" y="265.77" width="31.92" height="3.08" fill="#4acb84"/>
<rect x="469.08" y="268.35" width="31.92" height="3.08" fill="#37c897"/>
<rect x="469.08" y="270.92" width="31.92" height="3.08" fill="#4acb84"/>
<rect x="469.08" y="273.50" width="31.92" height="3.08" fill="#37c897"/>
<rect x="469.08" y="276.08" width="31.92" height="3.08" fill="#1ec0b2"/>
<rect x="469.08" y="278.65" width="31.92" height="3.08" fill="#20a5e3"/>
<rect x="469.08" y="281.23" width="31.92" height="3.08" fill="#37c897"/>
<rect x="469.08" y="283.81" width="31.92" height="3.08" fill="#1ec0b2"/>
<rect x="469.08" y="286.38" width="31.92" height="3.08" fill="#20a5e3"/>
<rect x="469.08" y="288.96" width="31.92" height="3.08" fill="#37c897"/>
<rect x="469.08" y="291.54" width="31.92" height="3.08" fill="#1ec0b2"/>
<rect x="469.08" y="294.12" width="31.92" height="3.08" fill="#20a5e3"/>
<rect x="469.08" y="296.69" width="31.92" height="3.08" fill="#37c897"/>
<rect x="469.08" y="299.27" width="31.92" height="3.08" fill="#4acb84"/>
<rect x="469.08" y="301.85" width="31.92" height="3.08" fill="#37c897"/>
<rect x="469.08" y="304.42" width="31.92" height="3.08" fill="#4acb84"/>
<rect x="469.08" y="307.00" width="31.92" height="3.08" fill="#37c897"/>
<rect x="469.08" y="309.58" width="31.92" height="5.65" fill="#1ec0b2"/>
<rect x="469.08" y="314.73" width="31.92" height="5.65" fill="#4acb84"/>
<rect x="469.08" y="319.88" width="31.92" height="3.08" fill="#1ec0b2"/>
<rect x="469.08" y="322.46" width="31.92" height="3.08" fill="#37c897"/>
<rect x="469.08" y="325.04" width="31.92" height="3.08" fill="#1ec0b2"/>
<rect x="469.08" y="327.62" width="31.92" height="5.65" fill="#96ca48"/>
<rect x="469.08" y="332.77" width="31.92" height="3.08" fill="#4acb84"/>
<rect x="469.08" y="335.35" width="31.92" height="8.23" fill="#37c897"/>
<rect x="469.08" y="343.08" width="31.92" height="3.08" fill="#4acb84"/>
<rect x="469.08" y="345.65" width="31.92" height="3.08" fill="#37c897"/>
<rect x="469.08" y="348.23" width="31.92" height="5.65" fill="#96ca48"/>
<rect x="469.08" y="353.38" width="31.92" height="3.08" fill="#bfc32d"/>
<rect x="469.08" y="355.96" width="31.92" height="5.65" fill="#f4ba39"/>
<rect x="469.08" y="361.12" width="31.92" height="5.65" fill="#debc2a"/>
<rect x="469.08" y="366.27" width="31.92" height="3.08" fill="#f4ba39"/>
<rect x="469.08" y="368.85" width="31.92" height="8.23" fill="#f5e626"/>
<rect x="469.08" y="376.58" width="31.92" height="3.08" fill="#fdcb33"/>
<rect x="469.08" y="379.15" width="31.92" height="3.08" fill="#febe3c"/>
<rect x="469.08" y="381.73" width="31.92" height="5.65" fill="#f4ba39"/>
<rect x="469.08" y="386.88" width="31.92" height="3.08" fill="#bfc32d"/>
<rect x="469.08" y="389.46" width="31.92" height="3.08" fill="#debc2a"/>
<rect x="469.08" y="392.04" width="31.92" height="3.08" fill="#bfc32d"/>
<rect x="469.08" y="394.62" width="31.92" height="5.65" fill="#96ca48"/>
<rect x="469.08" y="399.77" width="31.92" height="3.08" fill="#4acb84"/>
<rect x="469.08" y="402.35" width="31.92" height="3.08" fill="#1ec0b2"/>
<rect x="469.08" y="404.92" width="31.92" height="2.58" fill="#4acb84"/>
<rect x="309.5" y="240" width="191.5" height="167.5" fill="none" stroke="#262626" stroke-width="0.5"/>
<line x1="309.5" y1="406.60" x2="311.3" y2="406.60" stroke="#262626" stroke-width="0.5"/>
<line x1="501" y1="406.60" x2="499.2" y2="406.60" stroke="#262626" stroke-width="0.5"/>
<text transform="translate(306.7,409.26) scale(0.9,1)" text-anchor="end" class="tk" font-size="7.4">0</text>
<line x1="309.5" y1="390.12" x2="311.3" y2="390.12" stroke="#262626" stroke-width="0.5"/>
<line x1="501" y1="390.12" x2="499.2" y2="390.12" stroke="#262626" stroke-width="0.5"/>
<text transform="translate(306.7,392.78) scale(0.9,1)" text-anchor="end" class="tk" font-size="7.4">50</text>
<line x1="309.5" y1="373.64" x2="311.3" y2="373.64" stroke="#262626" stroke-width="0.5"/>
<line x1="501" y1="373.64" x2="499.2" y2="373.64" stroke="#262626" stroke-width="0.5"/>
<text transform="translate(306.7,376.30) scale(0.9,1)" text-anchor="end" class="tk" font-size="7.4">100</text>
<line x1="309.5" y1="357.16" x2="311.3" y2="357.16" stroke="#262626" stroke-width="0.5"/>
<line x1="501" y1="357.16" x2="499.2" y2="357.16" stroke="#262626" stroke-width="0.5"/>
<text transform="translate(306.7,359.82) scale(0.9,1)" text-anchor="end" class="tk" font-size="7.4">150</text>
<line x1="309.5" y1="340.68" x2="311.3" y2="340.68" stroke="#262626" stroke-width="0.5"/>
<line x1="501" y1="340.68" x2="499.2" y2="340.68" stroke="#262626" stroke-width="0.5"/>
<text transform="translate(306.7,343.34) scale(0.9,1)" text-anchor="end" class="tk" font-size="7.4">200</text>
<line x1="309.5" y1="324.20" x2="311.3" y2="324.20" stroke="#262626" stroke-width="0.5"/>
<line x1="501" y1="324.20" x2="499.2" y2="324.20" stroke="#262626" stroke-width="0.5"/>
<text transform="translate(306.7,326.86) scale(0.9,1)" text-anchor="end" class="tk" font-size="7.4">250</text>
<line x1="309.5" y1="307.72" x2="311.3" y2="307.72" stroke="#262626" stroke-width="0.5"/>
<line x1="501" y1="307.72" x2="499.2" y2="307.72" stroke="#262626" stroke-width="0.5"/>
<text transform="translate(306.7,310.38) scale(0.9,1)" text-anchor="end" class="tk" font-size="7.4">300</text>
<line x1="309.5" y1="291.24" x2="311.3" y2="291.24" stroke="#262626" stroke-width="0.5"/>
<line x1="501" y1="291.24" x2="499.2" y2="291.24" stroke="#262626" stroke-width="0.5"/>
<text transform="translate(306.7,293.90) scale(0.9,1)" text-anchor="end" class="tk" font-size="7.4">350</text>
<line x1="309.5" y1="274.76" x2="311.3" y2="274.76" stroke="#262626" stroke-width="0.5"/>
<line x1="501" y1="274.76" x2="499.2" y2="274.76" stroke="#262626" stroke-width="0.5"/>
<text transform="translate(306.7,277.42) scale(0.9,1)" text-anchor="end" class="tk" font-size="7.4">400</text>
<line x1="309.5" y1="258.28" x2="311.3" y2="258.28" stroke="#262626" stroke-width="0.5"/>
<line x1="501" y1="258.28" x2="499.2" y2="258.28" stroke="#262626" stroke-width="0.5"/>
<text transform="translate(306.7,260.94) scale(0.9,1)" text-anchor="end" class="tk" font-size="7.4">450</text>
<line x1="309.5" y1="241.80" x2="311.3" y2="241.80" stroke="#262626" stroke-width="0.5"/>
<line x1="501" y1="241.80" x2="499.2" y2="241.80" stroke="#262626" stroke-width="0.5"/>
<text transform="translate(306.7,244.46) scale(0.9,1)" text-anchor="end" class="tk" font-size="7.4">500</text>
<line x1="318.40" y1="407.5" x2="318.40" y2="405.7" stroke="#262626" stroke-width="0.5"/>
<line x1="318.40" y1="240" x2="318.40" y2="241.8" stroke="#262626" stroke-width="0.5"/>
<text transform="translate(318.40,417.76) scale(0.9,1)" text-anchor="middle" class="tk" font-size="7.4">100</text>
<line x1="343.26" y1="407.5" x2="343.26" y2="405.7" stroke="#262626" stroke-width="0.5"/>
<line x1="343.26" y1="240" x2="343.26" y2="241.8" stroke="#262626" stroke-width="0.5"/>
<text transform="translate(343.26,417.76) scale(0.9,1)" text-anchor="middle" class="tk" font-size="7.4">200</text>
<line x1="368.12" y1="407.5" x2="368.12" y2="405.7" stroke="#262626" stroke-width="0.5"/>
<line x1="368.12" y1="240" x2="368.12" y2="241.8" stroke="#262626" stroke-width="0.5"/>
<text transform="translate(368.12,417.76) scale(0.9,1)" text-anchor="middle" class="tk" font-size="7.4">300</text>
<line x1="392.98" y1="407.5" x2="392.98" y2="405.7" stroke="#262626" stroke-width="0.5"/>
<line x1="392.98" y1="240" x2="392.98" y2="241.8" stroke="#262626" stroke-width="0.5"/>
<text transform="translate(392.98,417.76) scale(0.9,1)" text-anchor="middle" class="tk" font-size="7.4">400</text>
<line x1="417.84" y1="407.5" x2="417.84" y2="405.7" stroke="#262626" stroke-width="0.5"/>
<line x1="417.84" y1="240" x2="417.84" y2="241.8" stroke="#262626" stroke-width="0.5"/>
<text transform="translate(417.84,417.76) scale(0.9,1)" text-anchor="middle" class="tk" font-size="7.4">500</text>
<line x1="442.70" y1="407.5" x2="442.70" y2="405.7" stroke="#262626" stroke-width="0.5"/>
<line x1="442.70" y1="240" x2="442.70" y2="241.8" stroke="#262626" stroke-width="0.5"/>
<text transform="translate(442.70,417.76) scale(0.9,1)" text-anchor="middle" class="tk" font-size="7.4">600</text>
<line x1="467.56" y1="407.5" x2="467.56" y2="405.7" stroke="#262626" stroke-width="0.5"/>
<line x1="467.56" y1="240" x2="467.56" y2="241.8" stroke="#262626" stroke-width="0.5"/>
<text transform="translate(467.56,417.76) scale(0.9,1)" text-anchor="middle" class="tk" font-size="7.4">700</text>
<line x1="492.42" y1="407.5" x2="492.42" y2="405.7" stroke="#262626" stroke-width="0.5"/>
<line x1="492.42" y1="240" x2="492.42" y2="241.8" stroke="#262626" stroke-width="0.5"/>
<text transform="translate(492.42,417.76) scale(0.9,1)" text-anchor="middle" class="tk" font-size="7.4">800</text>
<rect x="506" y="240" width="10.700000000000045" height="167" fill="url(#par)" stroke="#262626" stroke-width="0.5"/>
<line x1="516.7" y1="259.30" x2="515.2" y2="259.30" stroke="#262626" stroke-width="0.5"/>
<line x1="506" y1="259.30" x2="507.5" y2="259.30" stroke="#262626" stroke-width="0.5"/>
<text transform="translate(519.4,261.96) scale(0.9,1)" class="tk" font-size="7.4">-20</text>
<line x1="516.7" y1="281.05" x2="515.2" y2="281.05" stroke="#262626" stroke-width="0.5"/>
<line x1="506" y1="281.05" x2="507.5" y2="281.05" stroke="#262626" stroke-width="0.5"/>
<text transform="translate(519.4,283.71) scale(0.9,1)" class="tk" font-size="7.4">-40</text>
<line x1="516.7" y1="302.80" x2="515.2" y2="302.80" stroke="#262626" stroke-width="0.5"/>
<line x1="506" y1="302.80" x2="507.5" y2="302.80" stroke="#262626" stroke-width="0.5"/>
<text transform="translate(519.4,305.46) scale(0.9,1)" class="tk" font-size="7.4">-60</text>
<line x1="516.7" y1="324.55" x2="515.2" y2="324.55" stroke="#262626" stroke-width="0.5"/>
<line x1="506" y1="324.55" x2="507.5" y2="324.55" stroke="#262626" stroke-width="0.5"/>
<text transform="translate(519.4,327.21) scale(0.9,1)" class="tk" font-size="7.4">-80</text>
<line x1="516.7" y1="346.30" x2="515.2" y2="346.30" stroke="#262626" stroke-width="0.5"/>
<line x1="506" y1="346.30" x2="507.5" y2="346.30" stroke="#262626" stroke-width="0.5"/>
<text transform="translate(519.4,348.96) scale(0.9,1)" class="tk" font-size="7.4">-100</text>
<line x1="516.7" y1="368.05" x2="515.2" y2="368.05" stroke="#262626" stroke-width="0.5"/>
<line x1="506" y1="368.05" x2="507.5" y2="368.05" stroke="#262626" stroke-width="0.5"/>
<text transform="translate(519.4,370.71) scale(0.9,1)" class="tk" font-size="7.4">-120</text>
<line x1="516.7" y1="389.80" x2="515.2" y2="389.80" stroke="#262626" stroke-width="0.5"/>
<line x1="506" y1="389.80" x2="507.5" y2="389.80" stroke="#262626" stroke-width="0.5"/>
<text transform="translate(519.4,392.46) scale(0.9,1)" class="tk" font-size="7.4">-140</text>
<text transform="translate(289,322.7) rotate(-90)" text-anchor="middle" class="lab" font-size="12.2" dy="0.33em">frequency (Hz)</text>
<text x="404.9" y="429.3" text-anchor="middle" class="lab" font-size="12.2">time(ms)</text>
<text transform="translate(540,324.4) rotate(-90)" text-anchor="middle" class="lab" font-size="7.7" dy="0.33em">power/frequency(dB/Hz)</text>
<text x="415.3" y="447.0" text-anchor="middle" class="cap">(<tspan font-weight="bold">d</tspan>)</text>
</svg>
</body></html>
